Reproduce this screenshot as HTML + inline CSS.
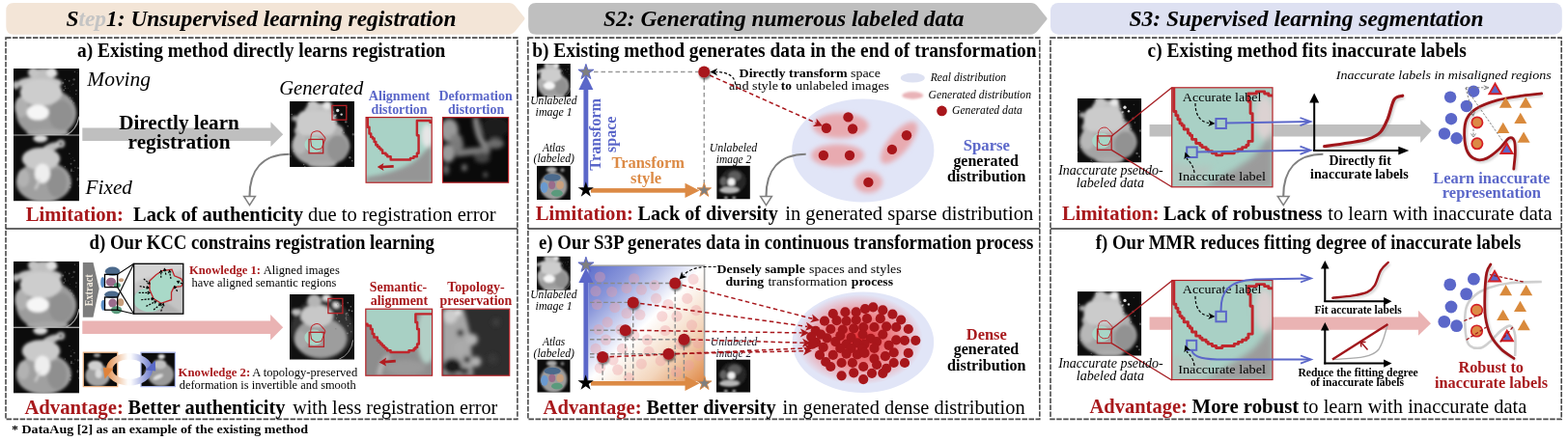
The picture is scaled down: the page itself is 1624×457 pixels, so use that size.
<!DOCTYPE html>
<html><head><meta charset="utf-8"><title>Figure</title>
<style>html,body{margin:0;padding:0;background:#fff;width:1624px;height:457px;overflow:hidden}
svg text{font-family:"Liberation Serif","Times New Roman",serif}</style></head>
<body><svg width="1624" height="457" viewBox="0 0 1624 457" font-family="Liberation Serif, serif">
<defs><filter id="b1" x="-20%" y="-20%" width="140%" height="140%"><feGaussianBlur stdDeviation="2.2"/></filter><filter id="b3" x="-20%" y="-20%" width="140%" height="140%"><feGaussianBlur stdDeviation="4"/></filter><filter id="b2" x="-20%" y="-20%" width="140%" height="140%"><feGaussianBlur stdDeviation="3"/></filter><filter id="b05" x="-20%" y="-20%" width="140%" height="140%"><feGaussianBlur stdDeviation="0.8"/></filter><filter id="sh" x="-50%" y="-50%" width="200%" height="200%"><feGaussianBlur in="SourceAlpha" stdDeviation="1.2"/><feOffset dx="1.2" dy="1.5" result="o"/><feComponentTransfer><feFuncA type="linear" slope="0.55"/></feComponentTransfer><feMerge><feMergeNode/><feMergeNode in="SourceGraphic"/></feMerge></filter><linearGradient id="ringg" gradientUnits="userSpaceOnUse" x1="107" y1="0" x2="161" y2="0"><stop offset="0" stop-color="#e07f34"/><stop offset="0.47" stop-color="#fdfcfb"/><stop offset="0.53" stop-color="#fbfbfe"/><stop offset="1" stop-color="#5566c6"/></linearGradient><filter id="bp" x="-30%" y="-50%" width="160%" height="200%"><feGaussianBlur stdDeviation="2.6"/></filter><linearGradient id="sqg" x1="0" y1="0" x2="1" y2="1"><stop offset="0" stop-color="#5e6fcc"/><stop offset="0.2" stop-color="#8a97da"/><stop offset="0.5" stop-color="#ffffff"/><stop offset="0.75" stop-color="#f3d6bd"/><stop offset="1" stop-color="#e08a48"/></linearGradient><radialGradient id="dg"><stop offset="0" stop-color="#e3262c"/><stop offset="0.6" stop-color="#ee8f95"/><stop offset="1" stop-color="#e1e5f7"/></radialGradient></defs>
<rect width="1624" height="457" fill="#fff"/>
<path d="M14.3,2.9 L527.0,2.9 Q531,2.9 533.48,6.03 L543.07,18.12 Q544,19.3 543.07,20.48 L533.48,32.57 Q531,35.7 527.0,35.7 L14.3,35.7 Q6.3,35.7 6.3,27.700000000000003 L6.3,10.9 Q6.3,2.9 14.3,2.9 Z" fill="#f3e5d7"/>
<path d="M555.2,2.9 L1067.7,2.9 Q1071.7,2.9 1074.22,6.01 L1084.06,18.13 Q1085,19.3 1084.06,20.47 L1074.22,32.59 Q1071.7,35.7 1067.7,35.7 L555.2,35.7 Q547.2,35.7 547.2,27.700000000000003 L547.2,10.9 Q547.2,2.9 555.2,2.9 Z" fill="#bfbfbf"/>
<rect x="1088" y="2.9" width="529.8" height="32.8" rx="8" fill="#dee1f2"/>
<text x="68.4" y="26.8" font-size="24" textLength="404.1" lengthAdjust="spacingAndGlyphs"><tspan font-weight="bold" font-style="italic" fill="#000">S</tspan><tspan font-weight="bold" font-style="italic" fill="#c4c4c4">tep</tspan><tspan font-weight="bold" font-style="italic" fill="#000">1: Unsupervised learning registration</tspan></text>
<text x="625.0" y="26.8" font-size="24" textLength="373.5" lengthAdjust="spacingAndGlyphs"><tspan font-weight="bold" font-style="italic" fill="#000">S2: Generating numerous labeled data</tspan></text>
<text x="1169.5" y="26.8" font-size="24" textLength="367.0" lengthAdjust="spacingAndGlyphs"><tspan font-weight="bold" font-style="italic" fill="#000">S3: Supervised learning segmentation</tspan></text>
<rect x="6.0" y="39.1" width="529.9" height="395.3" fill="none" stroke="#4a4a4a" stroke-width="1.6" stroke-dasharray="5.5 1.5"/>
<line x1="6.0" y1="236.9" x2="535.9" y2="236.9" stroke="#333" stroke-width="1.5"/>
<rect x="546.9" y="39.1" width="529.9" height="395.3" fill="none" stroke="#4a4a4a" stroke-width="1.6" stroke-dasharray="5.5 1.5"/>
<line x1="546.9" y1="236.9" x2="1076.8" y2="236.9" stroke="#333" stroke-width="1.5"/>
<rect x="1088.0" y="39.1" width="529.2" height="395.3" fill="none" stroke="#4a4a4a" stroke-width="1.6" stroke-dasharray="5.5 1.5"/>
<line x1="1088.0" y1="236.9" x2="1617.2" y2="236.9" stroke="#333" stroke-width="1.5"/>
<text x="12.0" y="448.7" font-size="12.5" font-weight="bold" fill="#000" textLength="307.0" lengthAdjust="spacingAndGlyphs">* DataAug [2] as an example of the existing method</text>
<svg x="14.0" y="71.0" width="68.0" height="69.0" viewBox="0 0 100 100" preserveAspectRatio="none" overflow="hidden"><rect width="100" height="100" fill="#0c0c0c"/><circle cx="75.8" cy="47.4" r="1.5" fill="#4a4a4a"/><circle cx="79.1" cy="29.8" r="1.1" fill="#4a4a4a"/><circle cx="90.2" cy="44.4" r="0.7" fill="#4a4a4a"/><circle cx="72.8" cy="46.8" r="1.1" fill="#4a4a4a"/><circle cx="93.3" cy="5.1" r="1.1" fill="#4a4a4a"/><circle cx="92.2" cy="16.4" r="1.7" fill="#4a4a4a"/><circle cx="97.2" cy="6.5" r="0.6" fill="#4a4a4a"/><circle cx="87.2" cy="52.0" r="1.1" fill="#4a4a4a"/><circle cx="78.1" cy="26.1" r="0.6" fill="#4a4a4a"/><circle cx="78.2" cy="26.9" r="1.2" fill="#4a4a4a"/><circle cx="78.5" cy="16.5" r="0.9" fill="#4a4a4a"/><circle cx="84.9" cy="19.5" r="0.6" fill="#4a4a4a"/><circle cx="95.5" cy="32.8" r="1.4" fill="#4a4a4a"/><circle cx="77.2" cy="54.6" r="1.6" fill="#4a4a4a"/><circle cx="75.4" cy="21.6" r="1.5" fill="#4a4a4a"/><circle cx="91.9" cy="51.8" r="1.1" fill="#4a4a4a"/><circle cx="95.2" cy="38.5" r="1.0" fill="#4a4a4a"/><circle cx="88.5" cy="49.1" r="1.6" fill="#4a4a4a"/><circle cx="86.1" cy="34.5" r="0.6" fill="#4a4a4a"/><circle cx="78.8" cy="44.9" r="1.1" fill="#4a4a4a"/><circle cx="76.8" cy="32.4" r="1.4" fill="#4a4a4a"/><circle cx="90.9" cy="23.7" r="1.1" fill="#4a4a4a"/><circle cx="86.2" cy="43.9" r="1.2" fill="#4a4a4a"/><circle cx="83.0" cy="29.5" r="0.6" fill="#4a4a4a"/><circle cx="73.2" cy="40.2" r="1.8" fill="#4a4a4a"/><circle cx="88.6" cy="24.7" r="0.8" fill="#4a4a4a"/><circle cx="86.1" cy="54.1" r="1.5" fill="#4a4a4a"/><circle cx="87.1" cy="48.0" r="0.9" fill="#4a4a4a"/><circle cx="86.4" cy="52.6" r="1.3" fill="#4a4a4a"/><circle cx="84.9" cy="18.5" r="1.3" fill="#4a4a4a"/><g filter="url(#b1)"><ellipse cx="50" cy="67" rx="46" ry="37" fill="#9c9c9c"/><ellipse cx="52" cy="97" rx="32" ry="6" fill="#a6a6a6"/><ellipse cx="72" cy="70" rx="18" ry="22" fill="#909090"/><ellipse cx="12" cy="58" rx="10" ry="16" fill="#b0b0b0"/><ellipse cx="40" cy="22" rx="34" ry="10" fill="#c5c5c5"/><ellipse cx="45" cy="8" rx="22" ry="8" fill="#c0c0c0"/><ellipse cx="42" cy="36" rx="32" ry="20" fill="#cdcdcd"/><ellipse cx="30" cy="6" rx="8" ry="7" fill="#c4c4c4"/><ellipse cx="58" cy="6" rx="8" ry="7" fill="#e2e2e2"/><ellipse cx="4" cy="25" rx="5" ry="6" fill="#b5b5b5"/><ellipse cx="37" cy="66" rx="17" ry="11.5" fill="#f6f6f6"/></g><path d="M100,72 Q96,94 78,101" stroke="#a0a0a0" stroke-width="1.6" fill="none"/></svg>
<svg x="14.0" y="140.0" width="68.0" height="68.4" viewBox="0 0 100 100" preserveAspectRatio="none" overflow="hidden"><rect width="100" height="100" fill="#0c0c0c"/><circle cx="99.0" cy="76.9" r="0.7" fill="#4a4a4a"/><circle cx="79.9" cy="70.1" r="1.5" fill="#4a4a4a"/><circle cx="92.7" cy="38.5" r="1.3" fill="#4a4a4a"/><circle cx="91.3" cy="54.9" r="0.8" fill="#4a4a4a"/><circle cx="87.5" cy="43.6" r="1.5" fill="#4a4a4a"/><circle cx="99.9" cy="77.0" r="1.3" fill="#4a4a4a"/><circle cx="87.8" cy="36.1" r="0.6" fill="#4a4a4a"/><circle cx="78.6" cy="47.9" r="1.0" fill="#4a4a4a"/><circle cx="86.4" cy="73.5" r="1.2" fill="#4a4a4a"/><circle cx="90.3" cy="34.2" r="0.6" fill="#4a4a4a"/><circle cx="85.2" cy="28.2" r="1.2" fill="#4a4a4a"/><circle cx="100.0" cy="60.5" r="0.8" fill="#4a4a4a"/><circle cx="97.7" cy="67.8" r="1.5" fill="#4a4a4a"/><circle cx="97.9" cy="65.8" r="1.5" fill="#4a4a4a"/><circle cx="85.8" cy="78.9" r="1.8" fill="#4a4a4a"/><circle cx="81.5" cy="65.2" r="1.5" fill="#4a4a4a"/><circle cx="88.2" cy="51.8" r="1.2" fill="#4a4a4a"/><circle cx="98.3" cy="50.1" r="1.6" fill="#4a4a4a"/><circle cx="85.8" cy="73.0" r="1.7" fill="#4a4a4a"/><circle cx="88.1" cy="54.1" r="1.7" fill="#4a4a4a"/><circle cx="93.9" cy="49.2" r="0.9" fill="#4a4a4a"/><circle cx="85.1" cy="62.0" r="0.8" fill="#4a4a4a"/><g filter="url(#b1)"><ellipse cx="46" cy="71" rx="42" ry="31" fill="#a0a0a0"/><ellipse cx="66" cy="72" rx="15" ry="22" fill="#8f8f8f"/><ellipse cx="15" cy="65" rx="9" ry="14" fill="#b2b2b2"/><ellipse cx="58" cy="18" rx="16" ry="6" fill="#bdbdbd" transform="rotate(-20 58 18)"/><ellipse cx="42" cy="36" rx="29" ry="17" fill="#cacaca"/><ellipse cx="41" cy="5" rx="11" ry="6" fill="#dadada"/><circle cx="72" cy="13" r="6" fill="#cfcfcf"/><circle cx="72" cy="13" r="2.8" fill="#111"/><ellipse cx="44" cy="58" rx="12" ry="15" fill="#eeeeee"/><path d="M40,66 Q37,76 33,82" stroke="#d5d5d5" stroke-width="3" fill="none"/></g></svg>
<line x1="14" y1="140" x2="82" y2="140" stroke="#d8d8d8" stroke-width="0.8"/>
<text x="90.2" y="88.7" font-size="21" font-style="italic" fill="#000" textLength="65.8" lengthAdjust="spacingAndGlyphs">Moving</text>
<text x="88.6" y="200.7" font-size="21" font-style="italic" fill="#000" textLength="48.4" lengthAdjust="spacingAndGlyphs">Fixed</text>
<path d="M85.3,132.4 L280.4,132.4 L280.4,126.3 L293.2,139.2 L280.4,152 L280.4,145.9 L85.3,145.9 Z" fill="#bfbfbf"/>
<text x="123.2" y="133.6" font-size="20" font-weight="bold" fill="#000" textLength="124.6" lengthAdjust="spacingAndGlyphs">Directly learn</text>
<text x="132.6" y="154.3" font-size="20" font-weight="bold" fill="#000" textLength="106.0" lengthAdjust="spacingAndGlyphs">registration</text>
<text x="289.2" y="97.5" font-size="21" font-style="italic" fill="#000" textLength="87.0" lengthAdjust="spacingAndGlyphs">Generated</text>
<svg x="300.1" y="105.0" width="67.0" height="68.0" viewBox="0 0 100 100" preserveAspectRatio="none" overflow="hidden"><rect width="100" height="100" fill="#0c0c0c"/><circle cx="23.8" cy="54.4" r="1.0" fill="#5a5a5a"/><circle cx="60.4" cy="62.6" r="0.7" fill="#5a5a5a"/><circle cx="1.3" cy="83.7" r="0.9" fill="#5a5a5a"/><circle cx="23.4" cy="99.6" r="1.2" fill="#5a5a5a"/><circle cx="83.6" cy="47.6" r="1.4" fill="#5a5a5a"/><circle cx="15.1" cy="63.5" r="1.6" fill="#5a5a5a"/><circle cx="52.3" cy="74.1" r="1.4" fill="#5a5a5a"/><circle cx="6.4" cy="75.8" r="1.3" fill="#5a5a5a"/><circle cx="30.1" cy="3.1" r="1.6" fill="#5a5a5a"/><circle cx="47.3" cy="71.9" r="1.7" fill="#5a5a5a"/><circle cx="71.4" cy="92.1" r="1.1" fill="#5a5a5a"/><circle cx="80.1" cy="44.5" r="1.7" fill="#5a5a5a"/><circle cx="87.9" cy="9.7" r="0.8" fill="#5a5a5a"/><circle cx="21.7" cy="96.5" r="1.1" fill="#5a5a5a"/><circle cx="62.7" cy="30.1" r="1.2" fill="#5a5a5a"/><circle cx="38.6" cy="35.1" r="1.3" fill="#5a5a5a"/><circle cx="58.4" cy="90.4" r="1.4" fill="#5a5a5a"/><circle cx="92.9" cy="85.6" r="1.8" fill="#5a5a5a"/><circle cx="67.1" cy="16.3" r="1.6" fill="#5a5a5a"/><circle cx="96.5" cy="90.5" r="1.3" fill="#5a5a5a"/><circle cx="71.4" cy="21.1" r="1.6" fill="#5a5a5a"/><circle cx="57.4" cy="28.5" r="0.7" fill="#5a5a5a"/><circle cx="85.4" cy="99.0" r="0.7" fill="#5a5a5a"/><circle cx="80.1" cy="41.0" r="0.8" fill="#5a5a5a"/><circle cx="29.4" cy="76.9" r="1.6" fill="#5a5a5a"/><circle cx="4.4" cy="61.5" r="0.7" fill="#5a5a5a"/><circle cx="71.8" cy="33.1" r="1.7" fill="#5a5a5a"/><circle cx="98.1" cy="50.5" r="1.8" fill="#5a5a5a"/><circle cx="31.0" cy="7.7" r="1.3" fill="#5a5a5a"/><circle cx="3.1" cy="19.7" r="1.1" fill="#5a5a5a"/><circle cx="61.0" cy="15.6" r="0.7" fill="#5a5a5a"/><circle cx="86.8" cy="31.4" r="1.8" fill="#5a5a5a"/><circle cx="89.7" cy="37.8" r="1.2" fill="#5a5a5a"/><circle cx="52.0" cy="64.4" r="1.3" fill="#5a5a5a"/><circle cx="55.9" cy="62.0" r="1.7" fill="#5a5a5a"/><circle cx="50.7" cy="43.1" r="1.5" fill="#5a5a5a"/><circle cx="23.8" cy="30.1" r="1.8" fill="#5a5a5a"/><circle cx="52.1" cy="54.8" r="0.6" fill="#5a5a5a"/><circle cx="41.5" cy="58.0" r="0.6" fill="#5a5a5a"/><circle cx="61.6" cy="63.2" r="0.7" fill="#5a5a5a"/><g filter="url(#b1)"><ellipse cx="48" cy="68" rx="45" ry="31" fill="#a4a4a4"/><ellipse cx="45" cy="45" rx="38" ry="16" fill="#b0b0b0"/><ellipse cx="74" cy="72" rx="16" ry="20" fill="#929292"/><ellipse cx="16" cy="64" rx="11" ry="16" fill="#b8b8b8"/><ellipse cx="45" cy="14" rx="22" ry="11" fill="#c0c0c0"/><rect x="10" y="14" width="62" height="38" rx="16" fill="#cbcbcb"/><ellipse cx="36" cy="6" rx="9" ry="7" fill="#c8c8c8"/><ellipse cx="58" cy="6" rx="7" ry="6" fill="#e8e8e8"/><ellipse cx="50" cy="96" rx="22" ry="5" fill="#acacac"/><ellipse cx="8" cy="26" rx="5" ry="4" fill="#aaa"/></g><circle cx="74" cy="14" r="2.5" fill="#e0e0e0"/><circle cx="80" cy="20" r="1.8" fill="#d0d0d0"/><circle cx="70" cy="22" r="1.5" fill="#bbb"/><ellipse cx="37.5" cy="66" rx="14.5" ry="12" fill="#a9dccb" opacity="0.9" filter="url(#b05)"/><path d="M32.5,55 C33,50 35,47 37.5,46.5 C40,45 44,45 46,46 C49,48 51,51 52.6,52.7 C55,55 56,58 53.8,60 C52,64 51,68 49,71.6 C46,73 42,73.5 39.6,72.8 C37,71 34.5,70 33.6,68 C32.5,63 32,58 32.5,55 Z" fill="none" stroke="#c0262c" stroke-width="1.5"/></svg>
<rect x="344" y="109.4" width="14.8" height="14.8" fill="none" stroke="#b52025" stroke-width="1.3"/>
<rect x="320" y="144.4" width="14.7" height="14.4" fill="none" stroke="#b52025" stroke-width="1.3"/>
<text x="381.8" y="104.2" font-size="14.5" font-weight="bold" fill="#5b67c9" textLength="63.4" lengthAdjust="spacingAndGlyphs">Alignment</text>
<text x="384.4" y="117.5" font-size="14.5" font-weight="bold" fill="#5b67c9" textLength="58.2" lengthAdjust="spacingAndGlyphs">distortion</text>
<text x="454.4" y="104.2" font-size="14.5" font-weight="bold" fill="#5b67c9" textLength="76.4" lengthAdjust="spacingAndGlyphs">Deformation</text>
<text x="464.0" y="117.5" font-size="14.5" font-weight="bold" fill="#5b67c9" textLength="58.2" lengthAdjust="spacingAndGlyphs">distortion</text>
<svg x="379.1" y="121.6" width="68.1" height="67.6" viewBox="0 0 100 100" preserveAspectRatio="none" overflow="hidden"><rect width="100" height="100" fill="#a9d2c6"/><g filter="url(#b2)"><path d="M0,92 Q40,86 70,70 Q90,55 100,38 L100,100 L0,100 Z" fill="#959595"/><ellipse cx="93" cy="28" rx="9" ry="18" fill="#e6e6e6"/></g><path d="M0.0,0.0 L2.5,0.0 L2.5,2.5 L2.5,5.0 L2.5,7.5 L2.5,10.0 L2.5,12.5 L2.5,15.0 L5.0,15.0 L5.0,17.5 L5.0,20.0 L5.0,22.5 L5.0,25.0 L7.5,25.0 L7.5,27.5 L7.5,30.0 L10.0,30.0 L10.0,32.5 L12.5,32.5 L12.5,35.0 L12.5,37.5 L15.0,37.5 L15.0,40.0 L15.0,42.5 L17.5,42.5 L17.5,45.0 L20.0,45.0 L20.0,47.5 L22.5,47.5 L22.5,50.0 L25.0,50.0 L25.0,52.5 L25.0,55.0 L27.5,55.0 L30.0,55.0 L30.0,57.5 L32.5,57.5 L32.5,60.0 L35.0,60.0 L37.5,60.0 L37.5,62.5 L37.5,65.0 L40.0,65.0 L42.5,65.0 L45.0,65.0 L47.5,65.0 L50.0,65.0 L52.5,65.0 L55.0,65.0 L57.5,65.0 L60.0,65.0 L62.5,65.0 L65.0,65.0 L67.5,65.0 L67.5,62.5 L70.0,62.5 L72.5,62.5 L72.5,60.0 L75.0,60.0 L77.5,60.0 L77.5,57.5 L77.5,55.0 L80.0,55.0 L80.0,52.5 L80.0,50.0 L80.0,47.5 L80.0,45.0 L80.0,42.5 L80.0,40.0 L80.0,37.5 L80.0,35.0 L80.0,32.5 L80.0,30.0 L80.0,27.5 L77.5,27.5 L77.5,25.0 L77.5,22.5 L77.5,20.0 L77.5,17.5 L77.5,15.0 L77.5,12.5 L77.5,10.0 L77.5,7.5 L77.5,5.0 L80.0,5.0 L82.5,5.0 L85.0,5.0 L87.5,5.0 L90.0,5.0 L92.5,5.0 L95.0,5.0 L97.5,5.0 L97.5,7.5 L100.0,7.5" fill="none" stroke="#c0262c" stroke-width="3.6" stroke-linejoin="round"/><line x1="42" y1="75" x2="23" y2="76" stroke="#b01c20" stroke-width="4"/><path d="M17,76 L27,70 L25,76 L27,82 Z" fill="#b01c20"/></svg>
<rect x="379.1" y="121.6" width="68.1" height="67.6" fill="none" stroke="#b52025" stroke-width="1.2"/>
<svg x="458.5" y="121.6" width="68.1" height="67.6" viewBox="0 0 100 100" preserveAspectRatio="none" overflow="hidden"><rect width="100" height="100" fill="#0a0a0a"/><g filter="url(#b2)"><ellipse cx="80" cy="15" rx="22" ry="16" fill="#1e1e1e"/><ellipse cx="10" cy="20" rx="14" ry="18" fill="#9a9a9a"/><ellipse cx="8" cy="55" rx="11" ry="14" fill="#9a9a9a"/><ellipse cx="20" cy="35" rx="10" ry="10" fill="#808080"/><ellipse cx="22" cy="42" rx="10" ry="8" fill="#7a7a7a"/><ellipse cx="5" cy="80" rx="5" ry="8" fill="#666"/><path d="M50,0 Q52,30 66,46" stroke="#8a8a8a" stroke-width="9" fill="none"/><path d="M20,55 Q45,52 72,50" stroke="#7a7a7a" stroke-width="11" fill="none"/><ellipse cx="80" cy="40" rx="13" ry="8" fill="#6c6c6c"/><ellipse cx="60" cy="62" rx="12" ry="8" fill="#444"/><ellipse cx="33" cy="77" rx="4" ry="5" fill="#777"/><ellipse cx="65" cy="88" rx="3" ry="4" fill="#777"/></g></svg>
<rect x="458.5" y="121.6" width="68.1" height="67.6" fill="none" stroke="#b52025" stroke-width="1.2"/>
<path d="M299.7,159.7 C272.0,160 258.5,176 258.5,203.5" fill="none" stroke="#808080" stroke-width="2.1"/>
<path d="M252.6,203.5 L264.4,203.5 L258.5,212.6 Z" fill="#fff" stroke="#808080" stroke-width="1.5" stroke-linejoin="miter"/>
<text x="26.8" y="228.5" font-size="21" font-weight="bold" fill="#a8191c" textLength="101.2" lengthAdjust="spacingAndGlyphs">Limitation:</text>
<text x="138.0" y="228.5" font-size="21" font-weight="bold" fill="#000" textLength="176.0" lengthAdjust="spacingAndGlyphs">Lack of authenticity</text>
<text x="319.0" y="228.5" font-size="21" fill="#000" textLength="194.6" lengthAdjust="spacingAndGlyphs">due to registration error</text>
<text x="80.0" y="59.2" font-size="20.5" font-weight="bold" fill="#000" textLength="381.4" lengthAdjust="spacingAndGlyphs">a) Existing method directly learns registration</text>
<text x="92.6" y="257.7" font-size="20.5" font-weight="bold" fill="#000" textLength="357.2" lengthAdjust="spacingAndGlyphs">d) Our KCC constrains registration learning</text>
<svg x="14.0" y="270.7" width="68.0" height="68.5" viewBox="0 0 100 100" preserveAspectRatio="none" overflow="hidden"><rect width="100" height="100" fill="#0c0c0c"/><circle cx="75.8" cy="47.4" r="1.5" fill="#4a4a4a"/><circle cx="79.1" cy="29.8" r="1.1" fill="#4a4a4a"/><circle cx="90.2" cy="44.4" r="0.7" fill="#4a4a4a"/><circle cx="72.8" cy="46.8" r="1.1" fill="#4a4a4a"/><circle cx="93.3" cy="5.1" r="1.1" fill="#4a4a4a"/><circle cx="92.2" cy="16.4" r="1.7" fill="#4a4a4a"/><circle cx="97.2" cy="6.5" r="0.6" fill="#4a4a4a"/><circle cx="87.2" cy="52.0" r="1.1" fill="#4a4a4a"/><circle cx="78.1" cy="26.1" r="0.6" fill="#4a4a4a"/><circle cx="78.2" cy="26.9" r="1.2" fill="#4a4a4a"/><circle cx="78.5" cy="16.5" r="0.9" fill="#4a4a4a"/><circle cx="84.9" cy="19.5" r="0.6" fill="#4a4a4a"/><circle cx="95.5" cy="32.8" r="1.4" fill="#4a4a4a"/><circle cx="77.2" cy="54.6" r="1.6" fill="#4a4a4a"/><circle cx="75.4" cy="21.6" r="1.5" fill="#4a4a4a"/><circle cx="91.9" cy="51.8" r="1.1" fill="#4a4a4a"/><circle cx="95.2" cy="38.5" r="1.0" fill="#4a4a4a"/><circle cx="88.5" cy="49.1" r="1.6" fill="#4a4a4a"/><circle cx="86.1" cy="34.5" r="0.6" fill="#4a4a4a"/><circle cx="78.8" cy="44.9" r="1.1" fill="#4a4a4a"/><circle cx="76.8" cy="32.4" r="1.4" fill="#4a4a4a"/><circle cx="90.9" cy="23.7" r="1.1" fill="#4a4a4a"/><circle cx="86.2" cy="43.9" r="1.2" fill="#4a4a4a"/><circle cx="83.0" cy="29.5" r="0.6" fill="#4a4a4a"/><circle cx="73.2" cy="40.2" r="1.8" fill="#4a4a4a"/><circle cx="88.6" cy="24.7" r="0.8" fill="#4a4a4a"/><circle cx="86.1" cy="54.1" r="1.5" fill="#4a4a4a"/><circle cx="87.1" cy="48.0" r="0.9" fill="#4a4a4a"/><circle cx="86.4" cy="52.6" r="1.3" fill="#4a4a4a"/><circle cx="84.9" cy="18.5" r="1.3" fill="#4a4a4a"/><g filter="url(#b1)"><ellipse cx="50" cy="67" rx="46" ry="37" fill="#9c9c9c"/><ellipse cx="52" cy="97" rx="32" ry="6" fill="#a6a6a6"/><ellipse cx="72" cy="70" rx="18" ry="22" fill="#909090"/><ellipse cx="12" cy="58" rx="10" ry="16" fill="#b0b0b0"/><ellipse cx="40" cy="22" rx="34" ry="10" fill="#c5c5c5"/><ellipse cx="45" cy="8" rx="22" ry="8" fill="#c0c0c0"/><ellipse cx="42" cy="36" rx="32" ry="20" fill="#cdcdcd"/><ellipse cx="30" cy="6" rx="8" ry="7" fill="#c4c4c4"/><ellipse cx="58" cy="6" rx="8" ry="7" fill="#e2e2e2"/><ellipse cx="4" cy="25" rx="5" ry="6" fill="#b5b5b5"/><ellipse cx="37" cy="66" rx="17" ry="11.5" fill="#f6f6f6"/></g><path d="M100,72 Q96,94 78,101" stroke="#a0a0a0" stroke-width="1.6" fill="none"/></svg>
<svg x="14.0" y="339.2" width="68.0" height="68.4" viewBox="0 0 100 100" preserveAspectRatio="none" overflow="hidden"><rect width="100" height="100" fill="#0c0c0c"/><circle cx="99.0" cy="76.9" r="0.7" fill="#4a4a4a"/><circle cx="79.9" cy="70.1" r="1.5" fill="#4a4a4a"/><circle cx="92.7" cy="38.5" r="1.3" fill="#4a4a4a"/><circle cx="91.3" cy="54.9" r="0.8" fill="#4a4a4a"/><circle cx="87.5" cy="43.6" r="1.5" fill="#4a4a4a"/><circle cx="99.9" cy="77.0" r="1.3" fill="#4a4a4a"/><circle cx="87.8" cy="36.1" r="0.6" fill="#4a4a4a"/><circle cx="78.6" cy="47.9" r="1.0" fill="#4a4a4a"/><circle cx="86.4" cy="73.5" r="1.2" fill="#4a4a4a"/><circle cx="90.3" cy="34.2" r="0.6" fill="#4a4a4a"/><circle cx="85.2" cy="28.2" r="1.2" fill="#4a4a4a"/><circle cx="100.0" cy="60.5" r="0.8" fill="#4a4a4a"/><circle cx="97.7" cy="67.8" r="1.5" fill="#4a4a4a"/><circle cx="97.9" cy="65.8" r="1.5" fill="#4a4a4a"/><circle cx="85.8" cy="78.9" r="1.8" fill="#4a4a4a"/><circle cx="81.5" cy="65.2" r="1.5" fill="#4a4a4a"/><circle cx="88.2" cy="51.8" r="1.2" fill="#4a4a4a"/><circle cx="98.3" cy="50.1" r="1.6" fill="#4a4a4a"/><circle cx="85.8" cy="73.0" r="1.7" fill="#4a4a4a"/><circle cx="88.1" cy="54.1" r="1.7" fill="#4a4a4a"/><circle cx="93.9" cy="49.2" r="0.9" fill="#4a4a4a"/><circle cx="85.1" cy="62.0" r="0.8" fill="#4a4a4a"/><g filter="url(#b1)"><ellipse cx="46" cy="71" rx="42" ry="31" fill="#a0a0a0"/><ellipse cx="66" cy="72" rx="15" ry="22" fill="#8f8f8f"/><ellipse cx="15" cy="65" rx="9" ry="14" fill="#b2b2b2"/><ellipse cx="58" cy="18" rx="16" ry="6" fill="#bdbdbd" transform="rotate(-20 58 18)"/><ellipse cx="42" cy="36" rx="29" ry="17" fill="#cacaca"/><ellipse cx="41" cy="5" rx="11" ry="6" fill="#dadada"/><circle cx="72" cy="13" r="6" fill="#cfcfcf"/><circle cx="72" cy="13" r="2.8" fill="#111"/><ellipse cx="44" cy="58" rx="12" ry="15" fill="#eeeeee"/><path d="M40,66 Q37,76 33,82" stroke="#d5d5d5" stroke-width="3" fill="none"/></g></svg>
<line x1="14" y1="339.2" x2="82" y2="339.2" stroke="#d8d8d8" stroke-width="0.8"/>
<path d="M85.8,272.1 L96.5,272.1 L102.7,298.9 L96.5,328.8 L85.8,328.8 Z" fill="#7d7d7d"/>
<text transform="translate(96.0,317.3) rotate(-90)" font-size="12" font-weight="bold" fill="#f3ece0" textLength="32.9" lengthAdjust="spacingAndGlyphs">Extract</text>
<g><ellipse cx="116.5" cy="281.2" rx="7.7" ry="4.6" fill="#4c6a8c"/><ellipse cx="106.3" cy="292.5" rx="2.1" ry="5.5" fill="#5b8fc8"/><ellipse cx="115" cy="292.3" rx="5.2" ry="4.6" fill="#9a6c8c"/><ellipse cx="121.4" cy="295.6" rx="3.6" ry="2.6" fill="#5a9a7c"/><ellipse cx="125.6" cy="290.3" rx="2.6" ry="2" fill="#c9a07e"/><ellipse cx="115.9" cy="305.3" rx="7.7" ry="3.7" fill="#4c6a8c"/><ellipse cx="106.9" cy="316.2" rx="2.3" ry="5.5" fill="#5b8fc8"/><ellipse cx="116.7" cy="314" rx="4.3" ry="4.6" fill="#9a6c8c"/><ellipse cx="125" cy="313.3" rx="3.3" ry="4" fill="#c9a07e"/><ellipse cx="120.6" cy="321.2" rx="5.6" ry="4" fill="#5a9a7c"/></g>
<rect x="108.5" y="284.4" width="13.2" height="13.2" fill="none" stroke="#000" stroke-width="1.3"/>
<rect x="108.5" y="308.0" width="13.2" height="13.2" fill="none" stroke="#000" stroke-width="1.3"/>
<line x1="121.7" y1="284.4" x2="138.6" y2="273.3" stroke="#000" stroke-width="1.1"/>
<line x1="121.7" y1="297.6" x2="138.6" y2="325.2" stroke="#000" stroke-width="1.1"/>
<line x1="121.7" y1="308.0" x2="138.6" y2="273.3" stroke="#000" stroke-width="1.1"/>
<line x1="121.7" y1="321.2" x2="138.6" y2="325.2" stroke="#000" stroke-width="1.1"/>
<svg x="138.6" y="273.3" width="51.2" height="51.9" viewBox="0 0 100 100" preserveAspectRatio="none" overflow="hidden"><rect width="100" height="100" fill="#c4c4c4"/><g filter="url(#b2)"><path d="M0,40 Q30,20 60,30 L100,10 L100,0 L0,0 Z" fill="#d4d4d4"/><path d="M0,60 Q20,45 40,60 L100,100 L0,100 Z" fill="#b0b0b0"/></g><ellipse cx="32" cy="72" rx="32" ry="24" fill="#a9d9c8"/><path d="M32,34 L45,22 L57,14 L77,11.5 L82,24 L96,30 L100,38 L96,45 L81,47 L76,57 L76,72 L55,79 L40,70 L32,52 Z" fill="#a9d9c8" stroke="#c0262c" stroke-width="2.6"/><line x1="20" y1="30" x2="32" y2="40" stroke="#000" stroke-width="2.4" stroke-dasharray="4 2.5"/><path d="M27.1,39.2 L32,40 L30.4,35.3" fill="none" stroke="#000" stroke-width="2.2"/><line x1="12" y1="45" x2="30" y2="48" stroke="#000" stroke-width="2.4" stroke-dasharray="4 2.5"/><path d="M25.4,49.8 L30,48 L26.2,44.8" fill="none" stroke="#000" stroke-width="2.2"/><line x1="10" y1="58" x2="32" y2="58" stroke="#000" stroke-width="2.4" stroke-dasharray="4 2.5"/><path d="M27.7,60.6 L32,58 L27.7,55.4" fill="none" stroke="#000" stroke-width="2.2"/><line x1="15" y1="72" x2="40" y2="70" stroke="#000" stroke-width="2.4" stroke-dasharray="4 2.5"/><path d="M35.9,72.9 L40,70 L35.5,67.8" fill="none" stroke="#000" stroke-width="2.2"/><line x1="25" y1="85" x2="45" y2="75" stroke="#000" stroke-width="2.4" stroke-dasharray="4 2.5"/><path d="M42.3,79.2 L45,75 L40.0,74.6" fill="none" stroke="#000" stroke-width="2.2"/><line x1="40" y1="92" x2="55" y2="80" stroke="#000" stroke-width="2.4" stroke-dasharray="4 2.5"/><path d="M53.3,84.7 L55,80 L50.0,80.7" fill="none" stroke="#000" stroke-width="2.2"/><line x1="55" y1="95" x2="60" y2="80" stroke="#000" stroke-width="2.4" stroke-dasharray="4 2.5"/><path d="M61.1,84.9 L60,80 L56.2,83.2" fill="none" stroke="#000" stroke-width="2.2"/><line x1="65" y1="22" x2="62" y2="10" stroke="#000" stroke-width="2.4" stroke-dasharray="4 2.5"/><path d="M65.5,13.5 L62,10 L60.5,14.8" fill="none" stroke="#000" stroke-width="2.2"/><line x1="55" y1="28" x2="55" y2="14" stroke="#000" stroke-width="2.4" stroke-dasharray="4 2.5"/><path d="M57.6,18.3 L55,14 L52.4,18.3" fill="none" stroke="#000" stroke-width="2.2"/><line x1="75" y1="30" x2="72" y2="14" stroke="#000" stroke-width="2.4" stroke-dasharray="4 2.5"/><path d="M75.3,17.7 L72,14 L70.3,18.7" fill="none" stroke="#000" stroke-width="2.2"/><line x1="88" y1="55" x2="82" y2="45" stroke="#000" stroke-width="2.4" stroke-dasharray="4 2.5"/><path d="M86.4,47.3 L82,45 L82.0,50.0" fill="none" stroke="#000" stroke-width="2.2"/><line x1="98" y1="40" x2="88" y2="35" stroke="#000" stroke-width="2.4" stroke-dasharray="4 2.5"/><path d="M93.0,34.6 L88,35 L90.7,39.2" fill="none" stroke="#000" stroke-width="2.2"/></svg>
<rect x="138.6" y="273.3" width="51.2" height="51.9" fill="none" stroke="#000" stroke-width="1.3"/>
<text x="196.0" y="283.7" font-size="13.5" font-weight="bold" fill="#a8191c" textLength="74.0" lengthAdjust="spacingAndGlyphs">Knowledge 1:</text>
<text x="272.8" y="283.7" font-size="13.5" fill="#000" textLength="79.0" lengthAdjust="spacingAndGlyphs">Aligned images</text>
<text x="198.6" y="297.3" font-size="13.5" fill="#000" textLength="149.8" lengthAdjust="spacingAndGlyphs">have aligned semantic regions</text>
<path d="M85.3,332.6 L280.1,332.6 L280.1,326.1 L293.2,339.3 L280.1,352.4 L280.1,345.9 L85.3,345.9 Z" fill="#eab3b3"/>
<svg x="300.0" y="305.0" width="67.0" height="67.7" viewBox="0 0 100 100" preserveAspectRatio="none" overflow="hidden"><rect width="100" height="100" fill="#101010"/><g filter="url(#b1)"><circle cx="50" cy="54" r="48" fill="#333"/><ellipse cx="48" cy="67" rx="40" ry="30" fill="#9d9d9d"/><ellipse cx="42" cy="33" rx="25" ry="17" fill="#c8c8c8"/><ellipse cx="38" cy="10" rx="11" ry="10" fill="#b5b5b5"/><ellipse cx="57" cy="5" rx="7" ry="5" fill="#dddddd"/><ellipse cx="10" cy="27" rx="7" ry="5" fill="#c0c0c0"/><ellipse cx="72" cy="16" rx="5" ry="5" fill="#e0e0e0"/><ellipse cx="18" cy="70" rx="10" ry="14" fill="#a8a8a8"/></g><circle cx="79.7" cy="17.5" r="1.1" fill="#777"/><circle cx="72.2" cy="36.8" r="0.9" fill="#777"/><circle cx="71.7" cy="35.4" r="0.6" fill="#777"/><circle cx="83.0" cy="13.5" r="0.7" fill="#777"/><circle cx="82.7" cy="51.3" r="0.7" fill="#777"/><circle cx="76.7" cy="41.4" r="1.4" fill="#777"/><circle cx="87.3" cy="29.8" r="1.4" fill="#777"/><circle cx="71.4" cy="52.9" r="0.8" fill="#777"/><circle cx="74.3" cy="15.9" r="0.8" fill="#777"/><circle cx="94.5" cy="19.0" r="1.1" fill="#777"/><circle cx="89.2" cy="28.6" r="1.0" fill="#777"/><circle cx="71.9" cy="13.0" r="0.8" fill="#777"/><circle cx="90.4" cy="31.4" r="0.9" fill="#777"/><circle cx="87.6" cy="32.7" r="0.8" fill="#777"/><circle cx="93.8" cy="44.9" r="0.8" fill="#777"/><circle cx="87.2" cy="36.3" r="1.3" fill="#777"/><circle cx="91.9" cy="24.4" r="1.4" fill="#777"/><circle cx="73.5" cy="30.9" r="1.2" fill="#777"/><circle cx="74.6" cy="34.4" r="0.6" fill="#777"/><circle cx="90.0" cy="48.2" r="1.1" fill="#777"/><circle cx="96.3" cy="25.7" r="1.2" fill="#777"/><circle cx="87.8" cy="39.0" r="1.0" fill="#777"/><circle cx="95.2" cy="57.2" r="1.0" fill="#777"/><circle cx="89.9" cy="13.0" r="1.2" fill="#777"/><circle cx="89.4" cy="59.7" r="1.3" fill="#777"/><path d="M98,70 Q95,92 75,100" stroke="#a0a0a0" stroke-width="1.4" fill="none"/><ellipse cx="37.5" cy="66" rx="14.5" ry="12" fill="#a9dccb" opacity="0.9" filter="url(#b05)"/><path d="M32.5,55 C33,50 35,47 37.5,46.5 C40,45 44,45 46,46 C49,48 51,51 52.6,52.7 C55,55 56,58 53.8,60 C52,64 51,68 49,71.6 C46,73 42,73.5 39.6,72.8 C37,71 34.5,70 33.6,68 C32.5,63 32,58 32.5,55 Z" fill="none" stroke="#c0262c" stroke-width="1.5"/></svg>
<rect x="339.9" y="309.4" width="15.0" height="15.2" fill="none" stroke="#b52025" stroke-width="1.3"/>
<rect x="320.2" y="344.3" width="15.2" height="15.0" fill="none" stroke="#b52025" stroke-width="1.3"/>
<text x="382.8" y="302.3" font-size="15" font-weight="bold" fill="#a8191c" textLength="59.4" lengthAdjust="spacingAndGlyphs">Semantic-</text>
<text x="383.8" y="315.5" font-size="15" font-weight="bold" fill="#a8191c" textLength="59.4" lengthAdjust="spacingAndGlyphs">alignment</text>
<text x="463.2" y="302.3" font-size="15" font-weight="bold" fill="#a8191c" textLength="59.4" lengthAdjust="spacingAndGlyphs">Topology-</text>
<text x="455.6" y="315.5" font-size="15" font-weight="bold" fill="#a8191c" textLength="74.6" lengthAdjust="spacingAndGlyphs">preservation</text>
<svg x="378.8" y="320.2" width="68.8" height="69.0" viewBox="0 0 100 100" preserveAspectRatio="none" overflow="hidden"><rect width="100" height="100" fill="#8d8d8d"/><g filter="url(#b2)"><ellipse cx="92" cy="40" rx="15" ry="42" fill="#b2cfc6"/><path d="M20,100 Q22,80 35,70" stroke="#c8c8c8" stroke-width="5" fill="none"/><ellipse cx="60" cy="88" rx="30" ry="12" fill="#9a9a9a"/></g><path d="M0,0 L0,22 L0,22 L7,26 L13,40 L22.5,52 L31.6,61 L43,66 L62,65 L73.5,61 L79,50 L79,31 L76,19 L76,7.5 L90,6.3 L100,8.5 L100,0 Z" fill="#a8d0c4"/><path d="M0.0,22.5 L2.5,22.5 L2.5,25.0 L5.0,25.0 L7.5,25.0 L7.5,27.5 L7.5,30.0 L10.0,30.0 L10.0,32.5 L10.0,35.0 L10.0,37.5 L12.5,37.5 L12.5,40.0 L12.5,42.5 L15.0,42.5 L17.5,42.5 L17.5,45.0 L17.5,47.5 L20.0,47.5 L20.0,50.0 L22.5,50.0 L22.5,52.5 L25.0,52.5 L25.0,55.0 L27.5,55.0 L27.5,57.5 L30.0,57.5 L30.0,60.0 L32.5,60.0 L32.5,62.5 L35.0,62.5 L37.5,62.5 L37.5,65.0 L40.0,65.0 L42.5,65.0 L45.0,65.0 L47.5,65.0 L50.0,65.0 L52.5,65.0 L55.0,65.0 L57.5,65.0 L60.0,65.0 L62.5,65.0 L65.0,65.0 L65.0,62.5 L67.5,62.5 L70.0,62.5 L72.5,62.5 L72.5,60.0 L75.0,60.0 L75.0,57.5 L77.5,57.5 L77.5,55.0 L77.5,52.5 L80.0,52.5 L80.0,50.0 L80.0,47.5 L80.0,45.0 L80.0,42.5 L80.0,40.0 L80.0,37.5 L80.0,35.0 L80.0,32.5 L80.0,30.0 L77.5,30.0 L77.5,27.5 L77.5,25.0 L77.5,22.5 L77.5,20.0 L75.0,20.0 L75.0,17.5 L75.0,15.0 L75.0,12.5 L75.0,10.0 L75.0,7.5 L77.5,7.5 L80.0,7.5 L82.5,7.5 L85.0,7.5 L87.5,7.5 L90.0,7.5 L92.5,7.5 L95.0,7.5 L97.5,7.5 L100.0,7.5" fill="none" stroke="#c0262c" stroke-width="3.6" stroke-linejoin="round"/><line x1="45" y1="78" x2="28" y2="79.5" stroke="#b01c20" stroke-width="4"/><path d="M20,80 L31,73 L29,80 L31,86 Z" fill="#b01c20"/></svg>
<rect x="378.8" y="320.2" width="68.8" height="69.0" fill="none" stroke="#b52025" stroke-width="1.2"/>
<svg x="458.0" y="320.2" width="69.7" height="69.0" viewBox="0 0 100 100" preserveAspectRatio="none" overflow="hidden"><rect width="100" height="100" fill="#2e2e2e"/><g filter="url(#b2)"><path d="M0,0 L32,0 Q38,20 42,40 Q44,70 46,100 L0,100 Z" fill="#a6a6a6"/><ellipse cx="12" cy="10" rx="11" ry="12" fill="#cdcdcd"/><ellipse cx="24" cy="4" rx="4" ry="5" fill="#eeeeee"/><circle cx="44" cy="46" r="9" fill="#b4b4b4"/><circle cx="50" cy="79" r="8" fill="#b0b0b0"/><circle cx="27" cy="59" r="10" fill="#ababab"/><ellipse cx="15" cy="86" rx="14" ry="12" fill="#1e1e1e"/><circle cx="37" cy="76" r="5" fill="#2a2a2a"/><circle cx="27" cy="36" r="5" fill="#333"/><ellipse cx="33" cy="93" rx="8" ry="5" fill="#222"/><circle cx="80" cy="20" r="6" fill="#3c3c3c"/><circle cx="75" cy="75" r="8" fill="#393939"/></g></svg>
<rect x="458.0" y="320.2" width="69.7" height="69.0" fill="none" stroke="#b52025" stroke-width="1.2"/>
<svg x="86.3" y="365.2" width="35.4" height="35.4" viewBox="0 0 100 100" preserveAspectRatio="none" overflow="hidden"><rect width="100" height="100" fill="#0c0c0c"/><g filter="url(#b2)"><ellipse cx="42" cy="68" rx="36" ry="32" fill="#a2a2a2"/><ellipse cx="35" cy="38" rx="22" ry="14" fill="#d0d0d0"/><ellipse cx="45" cy="62" rx="10" ry="13" fill="#dcdcdc"/><ellipse cx="40" cy="8" rx="10" ry="6" fill="#999"/></g></svg>
<rect x="86.3" y="365.2" width="35.4" height="35.4" fill="none" stroke="#e8b080" stroke-width="1.2"/>
<svg x="146.0" y="365.2" width="35.4" height="35.4" viewBox="0 0 100 100" preserveAspectRatio="none" overflow="hidden"><rect width="100" height="100" fill="#0c0c0c"/><g filter="url(#b2)"><ellipse cx="58" cy="65" rx="38" ry="34" fill="#9a9a9a"/><ellipse cx="55" cy="35" rx="20" ry="14" fill="#c0c0c0"/><ellipse cx="60" cy="12" rx="10" ry="7" fill="#dddddd"/><ellipse cx="50" cy="72" rx="16" ry="6" fill="#e0e0e0" transform="rotate(-25 50 72)"/><ellipse cx="20" cy="60" rx="10" ry="10" fill="#888"/></g></svg>
<rect x="146.0" y="365.2" width="35.4" height="35.4" fill="none" stroke="#a8b4e8" stroke-width="1.2"/>
<ellipse cx="134" cy="382.7" rx="20.8" ry="13.4" fill="none" stroke="url(#ringg)" stroke-width="6.6"/>
<path d="M106.8,381 L117.5,381.8 L108.5,392.8 Z" fill="#e0833a"/>
<path d="M161.2,384.5 L150.6,383.6 L160.8,373.5 Z" fill="#5868c6"/>
<text x="184.6" y="389.6" font-size="13.5" font-weight="bold" fill="#a8191c" textLength="74.6" lengthAdjust="spacingAndGlyphs">Knowledge 2:</text>
<text x="261.2" y="389.6" font-size="13.5" fill="#000" textLength="109.0" lengthAdjust="spacingAndGlyphs">A topology-preserved</text>
<text x="185.8" y="403.4" font-size="13.5" fill="#000" textLength="182.8" lengthAdjust="spacingAndGlyphs">deformation is invertible and smooth</text>
<text x="25.4" y="428.7" font-size="21" font-weight="bold" fill="#a8191c" textLength="102.4" lengthAdjust="spacingAndGlyphs">Advantage:</text>
<text x="132.6" y="428.7" font-size="21" font-weight="bold" fill="#000" textLength="162.8" lengthAdjust="spacingAndGlyphs">Better authenticity</text>
<text x="303.2" y="428.7" font-size="21" fill="#000" textLength="212.0" lengthAdjust="spacingAndGlyphs">with less registration error</text>
<text x="551.2" y="58.8" font-size="20.5" font-weight="bold" fill="#000" textLength="522.4" lengthAdjust="spacingAndGlyphs">b) Existing method generates data in the end of transformation</text>
<svg x="555.9" y="65.9" width="35.0" height="34.6" viewBox="0 0 100 100" preserveAspectRatio="none" overflow="hidden"><rect width="100" height="100" fill="#0c0c0c"/><circle cx="75.8" cy="47.4" r="1.5" fill="#4a4a4a"/><circle cx="79.1" cy="29.8" r="1.1" fill="#4a4a4a"/><circle cx="90.2" cy="44.4" r="0.7" fill="#4a4a4a"/><circle cx="72.8" cy="46.8" r="1.1" fill="#4a4a4a"/><circle cx="93.3" cy="5.1" r="1.1" fill="#4a4a4a"/><circle cx="92.2" cy="16.4" r="1.7" fill="#4a4a4a"/><circle cx="97.2" cy="6.5" r="0.6" fill="#4a4a4a"/><circle cx="87.2" cy="52.0" r="1.1" fill="#4a4a4a"/><circle cx="78.1" cy="26.1" r="0.6" fill="#4a4a4a"/><circle cx="78.2" cy="26.9" r="1.2" fill="#4a4a4a"/><circle cx="78.5" cy="16.5" r="0.9" fill="#4a4a4a"/><circle cx="84.9" cy="19.5" r="0.6" fill="#4a4a4a"/><circle cx="95.5" cy="32.8" r="1.4" fill="#4a4a4a"/><circle cx="77.2" cy="54.6" r="1.6" fill="#4a4a4a"/><circle cx="75.4" cy="21.6" r="1.5" fill="#4a4a4a"/><circle cx="91.9" cy="51.8" r="1.1" fill="#4a4a4a"/><circle cx="95.2" cy="38.5" r="1.0" fill="#4a4a4a"/><circle cx="88.5" cy="49.1" r="1.6" fill="#4a4a4a"/><circle cx="86.1" cy="34.5" r="0.6" fill="#4a4a4a"/><circle cx="78.8" cy="44.9" r="1.1" fill="#4a4a4a"/><circle cx="76.8" cy="32.4" r="1.4" fill="#4a4a4a"/><circle cx="90.9" cy="23.7" r="1.1" fill="#4a4a4a"/><circle cx="86.2" cy="43.9" r="1.2" fill="#4a4a4a"/><circle cx="83.0" cy="29.5" r="0.6" fill="#4a4a4a"/><circle cx="73.2" cy="40.2" r="1.8" fill="#4a4a4a"/><circle cx="88.6" cy="24.7" r="0.8" fill="#4a4a4a"/><circle cx="86.1" cy="54.1" r="1.5" fill="#4a4a4a"/><circle cx="87.1" cy="48.0" r="0.9" fill="#4a4a4a"/><circle cx="86.4" cy="52.6" r="1.3" fill="#4a4a4a"/><circle cx="84.9" cy="18.5" r="1.3" fill="#4a4a4a"/><g filter="url(#b2)"><ellipse cx="50" cy="67" rx="46" ry="37" fill="#9c9c9c"/><ellipse cx="52" cy="97" rx="32" ry="6" fill="#a6a6a6"/><ellipse cx="72" cy="70" rx="18" ry="22" fill="#909090"/><ellipse cx="12" cy="58" rx="10" ry="16" fill="#b0b0b0"/><ellipse cx="40" cy="22" rx="34" ry="10" fill="#c5c5c5"/><ellipse cx="45" cy="8" rx="22" ry="8" fill="#c0c0c0"/><ellipse cx="42" cy="36" rx="32" ry="20" fill="#cdcdcd"/><ellipse cx="30" cy="6" rx="8" ry="7" fill="#c4c4c4"/><ellipse cx="58" cy="6" rx="8" ry="7" fill="#e2e2e2"/><ellipse cx="4" cy="25" rx="5" ry="6" fill="#b5b5b5"/><ellipse cx="37" cy="66" rx="17" ry="11.5" fill="#f6f6f6"/></g><path d="M100,72 Q96,94 78,101" stroke="#a0a0a0" stroke-width="1.6" fill="none"/></svg>
<text x="549.2" y="108.4" font-size="11.5" font-style="italic" fill="#000" textLength="48.4" lengthAdjust="spacingAndGlyphs">Unlabeled</text>
<text x="554.6" y="119.8" font-size="11.5" font-style="italic" fill="#000" textLength="38.0" lengthAdjust="spacingAndGlyphs">image 1</text>
<text x="562.0" y="156.6" font-size="11.5" font-style="italic" fill="#000" textLength="23.2" lengthAdjust="spacingAndGlyphs">Atlas</text>
<text x="552.6" y="168.2" font-size="11.5" font-style="italic" fill="#000" textLength="42.4" lengthAdjust="spacingAndGlyphs">(labeled)</text>
<svg x="555.9" y="171.7" width="35.0" height="35.3" viewBox="0 0 100 100" preserveAspectRatio="none" overflow="hidden"><rect width="100" height="100" fill="#0c0c0c"/><g filter="url(#b2)"><ellipse cx="50" cy="60" rx="40" ry="40" fill="#9c9c9c"/><ellipse cx="44" cy="12" rx="16" ry="8" fill="#a8a8a8"/><circle cx="76" cy="13" r="5" fill="#cfcfcf"/><circle cx="76" cy="13" r="2.5" fill="#111"/></g><g filter="url(#b05)"><ellipse cx="46" cy="35" rx="25" ry="11" fill="#4c6a8c"/><ellipse cx="22" cy="64" rx="11" ry="16" fill="#6a9ad0"/><ellipse cx="45" cy="57" rx="10" ry="12" fill="#9a6c8c"/><ellipse cx="69" cy="57" rx="11" ry="12" fill="#c9a07e"/><ellipse cx="60" cy="81" rx="17" ry="10" fill="#5a9a7c"/></g></svg>
<text x="734.8" y="157.0" font-size="11.5" font-style="italic" fill="#000" textLength="49.4" lengthAdjust="spacingAndGlyphs">Unlabeled</text>
<text x="741.8" y="168.5" font-size="11.5" font-style="italic" fill="#000" textLength="36.4" lengthAdjust="spacingAndGlyphs">image 2</text>
<svg x="742.2" y="171.6" width="34.7" height="34.9" viewBox="0 0 100 100" preserveAspectRatio="none" overflow="hidden"><rect width="100" height="100" fill="#0c0c0c"/><g filter="url(#b2)"><ellipse cx="50" cy="45" rx="38" ry="36" fill="#262626"/><ellipse cx="54" cy="31" rx="19" ry="15" fill="#5c5c5c"/><ellipse cx="20" cy="47" rx="11" ry="13" fill="#626262"/><ellipse cx="38" cy="73" rx="30" ry="10" fill="#b8b8b8"/><ellipse cx="44" cy="49" rx="11" ry="11" fill="#f2f2f2"/><ellipse cx="28" cy="96" rx="5" ry="4" fill="#dddddd"/><ellipse cx="52" cy="96" rx="5" ry="4" fill="#dddddd"/></g></svg>
<line x1="615" y1="74.6" x2="723" y2="74.6" stroke="#9a9a9a" stroke-width="1.5" stroke-dasharray="4.5 3"/>
<line x1="729.3" y1="81" x2="729.3" y2="190" stroke="#9a9a9a" stroke-width="1.5" stroke-dasharray="4.5 3"/>
<rect x="604.4" y="90" width="4.9" height="104" fill="#5b67c9"/>
<path d="M599.4,93 L614.4,93 L606.9,77.5 Z" fill="#5b67c9"/>
<polygon points="606.90,66.40 608.79,72.20 614.89,72.20 609.95,75.79 611.84,81.60 606.90,78.01 601.96,81.60 603.85,75.79 598.91,72.20 605.01,72.20" fill="#7f7f7f" stroke="#5b67c9" stroke-width="1.0" stroke-linejoin="miter"/>
<rect x="612" y="195.1" width="99" height="4.6" fill="#dc8a45"/>
<path d="M709.5,189.8 L724.5,197.4 L709.5,205 Z" fill="#dc8a45"/>
<polygon points="729.30,189.60 731.01,194.85 736.53,194.85 732.06,198.10 733.77,203.35 729.30,200.10 724.83,203.35 726.54,198.10 722.07,194.85 727.59,194.85" fill="#7f7f7f" stroke="#dc8a45" stroke-width="1.0" stroke-linejoin="miter"/>
<polygon points="606.80,188.20 608.73,194.14 614.98,194.14 609.92,197.82 611.85,203.76 606.80,200.09 601.75,203.76 603.68,197.82 598.62,194.14 604.87,194.14" fill="#000" stroke="none" stroke-width="0" stroke-linejoin="miter"/>
<text transform="translate(622.4,176.7) rotate(-90)" font-size="17.5" font-weight="bold" fill="#5b67c9" textLength="74.8" lengthAdjust="spacingAndGlyphs">Transform</text>
<text transform="translate(638.3,158.0) rotate(-90)" font-size="17.5" font-weight="bold" fill="#5b67c9" textLength="37.4" lengthAdjust="spacingAndGlyphs">space</text>
<text x="633.4" y="174.4" font-size="17.5" font-weight="bold" fill="#dc8a45" textLength="75.6" lengthAdjust="spacingAndGlyphs">Transform</text>
<text x="653.0" y="189.5" font-size="17.5" font-weight="bold" fill="#dc8a45" textLength="32.2" lengthAdjust="spacingAndGlyphs">style</text>
<text x="765.6" y="79.6" font-size="13.5" font-weight="bold" fill="#000" textLength="112.0" lengthAdjust="spacingAndGlyphs">Directly transform</text>
<text x="881.0" y="79.6" font-size="13.5" fill="#000" textLength="31.0" lengthAdjust="spacingAndGlyphs">space</text>
<text x="755.0" y="93.2" font-size="13.5" fill="#000" textLength="51.0" lengthAdjust="spacingAndGlyphs">and style</text>
<text x="808.8" y="93.2" font-size="13.5" font-weight="bold" fill="#000" textLength="11.2" lengthAdjust="spacingAndGlyphs">to</text>
<text x="824.2" y="93.2" font-size="13.5" fill="#000" textLength="96.8" lengthAdjust="spacingAndGlyphs">unlabeled images</text>
<ellipse cx="893.8" cy="156" rx="73.6" ry="53.5" fill="#e1e5f7"/>
<g filter="url(#bp)" fill="#e8aab0"><ellipse cx="870.5" cy="130.2" rx="29" ry="13"/><ellipse cx="867.5" cy="161" rx="27.5" ry="11.5"/><ellipse cx="931" cy="147.9" rx="27" ry="10.5" transform="rotate(-50 931 147.9)"/><ellipse cx="899.4" cy="188.7" rx="14.5" ry="11"/></g>
<circle cx="855.9" cy="132.8" r="5.2" fill="#a8161b"/>
<circle cx="878.5" cy="121.4" r="5.2" fill="#a8161b"/>
<circle cx="883.1" cy="133.5" r="5.2" fill="#a8161b"/>
<circle cx="852.9" cy="161" r="5.2" fill="#a8161b"/>
<circle cx="880" cy="161" r="5.2" fill="#a8161b"/>
<circle cx="939" cy="140.3" r="5.2" fill="#a8161b"/>
<circle cx="923.9" cy="154.9" r="5.2" fill="#a8161b"/>
<circle cx="899.4" cy="188.9" r="5.2" fill="#a8161b"/>
<line x1="735.0" y1="78.0" x2="845.6" y2="127.6" stroke="#a8161b" stroke-width="1.5" stroke-dasharray="4.5 3"/>
<path d="M852.0,130.5 L841.9,130.9 L845.8,127.7 L845.6,122.7 Z" fill="#a8161b"/>
<path d="M761.7,87.5 C761,78 752,74.5 742,74.6" fill="none" stroke="#000" stroke-width="1.2" stroke-dasharray="3 2"/>
<path d="M735.5,74.6 L743.0,70.8 L741.1,74.6 L743.0,78.4 Z" fill="#000"/>
<circle cx="729.2" cy="74.6" r="6.0" fill="#a8161b" filter="url(#sh)"/>
<ellipse cx="945.3" cy="80.7" rx="12.5" ry="4.9" fill="#dde1f2"/>
<ellipse cx="945.3" cy="98.9" rx="11" ry="3.8" fill="#e9b3b7" filter="url(#b05)"/>
<circle cx="975.5" cy="114.9" r="5.3" fill="#a8161b"/>
<text x="963.8" y="83.6" font-size="11.5" font-style="italic" fill="#000" textLength="78.2" lengthAdjust="spacingAndGlyphs">Real distribution</text>
<text x="961.6" y="101.5" font-size="11.5" font-style="italic" fill="#000" textLength="106.4" lengthAdjust="spacingAndGlyphs">Generated distribution</text>
<text x="986.0" y="117.5" font-size="11.5" font-style="italic" fill="#000" textLength="72.8" lengthAdjust="spacingAndGlyphs">Generated data</text>
<text x="997.8" y="155.8" font-size="17" font-weight="bold" fill="#5b67c9" textLength="48.2" lengthAdjust="spacingAndGlyphs">Sparse</text>
<text x="987.4" y="172.2" font-size="17" font-weight="bold" fill="#000" textLength="67.4" lengthAdjust="spacingAndGlyphs">generated</text>
<text x="981.0" y="188.3" font-size="17" font-weight="bold" fill="#000" textLength="81.6" lengthAdjust="spacingAndGlyphs">distribution</text>
<path d="M834.7,159.7 C807.0,160 793.5,176 793.5,203.5" fill="none" stroke="#808080" stroke-width="2.1"/>
<path d="M787.6,203.5 L799.4,203.5 L793.5,212.6 Z" fill="#fff" stroke="#808080" stroke-width="1.5" stroke-linejoin="miter"/>
<text x="554.8" y="228.4" font-size="21" font-weight="bold" fill="#a8191c" textLength="101.0" lengthAdjust="spacingAndGlyphs">Limitation:</text>
<text x="660.6" y="228.4" font-size="21" font-weight="bold" fill="#000" textLength="145.2" lengthAdjust="spacingAndGlyphs">Lack of diversity</text>
<text x="813.2" y="228.4" font-size="21" fill="#000" textLength="257.0" lengthAdjust="spacingAndGlyphs">in generated sparse distribution</text>
<text x="558.0" y="257.9" font-size="20.5" font-weight="bold" fill="#000" textLength="512.2" lengthAdjust="spacingAndGlyphs">e) Our S3P generates data in continuous transformation process</text>
<svg x="555.9" y="265.5" width="35.0" height="35.3" viewBox="0 0 100 100" preserveAspectRatio="none" overflow="hidden"><rect width="100" height="100" fill="#0c0c0c"/><circle cx="75.8" cy="47.4" r="1.5" fill="#4a4a4a"/><circle cx="79.1" cy="29.8" r="1.1" fill="#4a4a4a"/><circle cx="90.2" cy="44.4" r="0.7" fill="#4a4a4a"/><circle cx="72.8" cy="46.8" r="1.1" fill="#4a4a4a"/><circle cx="93.3" cy="5.1" r="1.1" fill="#4a4a4a"/><circle cx="92.2" cy="16.4" r="1.7" fill="#4a4a4a"/><circle cx="97.2" cy="6.5" r="0.6" fill="#4a4a4a"/><circle cx="87.2" cy="52.0" r="1.1" fill="#4a4a4a"/><circle cx="78.1" cy="26.1" r="0.6" fill="#4a4a4a"/><circle cx="78.2" cy="26.9" r="1.2" fill="#4a4a4a"/><circle cx="78.5" cy="16.5" r="0.9" fill="#4a4a4a"/><circle cx="84.9" cy="19.5" r="0.6" fill="#4a4a4a"/><circle cx="95.5" cy="32.8" r="1.4" fill="#4a4a4a"/><circle cx="77.2" cy="54.6" r="1.6" fill="#4a4a4a"/><circle cx="75.4" cy="21.6" r="1.5" fill="#4a4a4a"/><circle cx="91.9" cy="51.8" r="1.1" fill="#4a4a4a"/><circle cx="95.2" cy="38.5" r="1.0" fill="#4a4a4a"/><circle cx="88.5" cy="49.1" r="1.6" fill="#4a4a4a"/><circle cx="86.1" cy="34.5" r="0.6" fill="#4a4a4a"/><circle cx="78.8" cy="44.9" r="1.1" fill="#4a4a4a"/><circle cx="76.8" cy="32.4" r="1.4" fill="#4a4a4a"/><circle cx="90.9" cy="23.7" r="1.1" fill="#4a4a4a"/><circle cx="86.2" cy="43.9" r="1.2" fill="#4a4a4a"/><circle cx="83.0" cy="29.5" r="0.6" fill="#4a4a4a"/><circle cx="73.2" cy="40.2" r="1.8" fill="#4a4a4a"/><circle cx="88.6" cy="24.7" r="0.8" fill="#4a4a4a"/><circle cx="86.1" cy="54.1" r="1.5" fill="#4a4a4a"/><circle cx="87.1" cy="48.0" r="0.9" fill="#4a4a4a"/><circle cx="86.4" cy="52.6" r="1.3" fill="#4a4a4a"/><circle cx="84.9" cy="18.5" r="1.3" fill="#4a4a4a"/><g filter="url(#b2)"><ellipse cx="50" cy="67" rx="46" ry="37" fill="#9c9c9c"/><ellipse cx="52" cy="97" rx="32" ry="6" fill="#a6a6a6"/><ellipse cx="72" cy="70" rx="18" ry="22" fill="#909090"/><ellipse cx="12" cy="58" rx="10" ry="16" fill="#b0b0b0"/><ellipse cx="40" cy="22" rx="34" ry="10" fill="#c5c5c5"/><ellipse cx="45" cy="8" rx="22" ry="8" fill="#c0c0c0"/><ellipse cx="42" cy="36" rx="32" ry="20" fill="#cdcdcd"/><ellipse cx="30" cy="6" rx="8" ry="7" fill="#c4c4c4"/><ellipse cx="58" cy="6" rx="8" ry="7" fill="#e2e2e2"/><ellipse cx="4" cy="25" rx="5" ry="6" fill="#b5b5b5"/><ellipse cx="37" cy="66" rx="17" ry="11.5" fill="#f6f6f6"/></g><path d="M100,72 Q96,94 78,101" stroke="#a0a0a0" stroke-width="1.6" fill="none"/></svg>
<text x="549.2" y="308.9" font-size="11.5" font-style="italic" fill="#000" textLength="48.4" lengthAdjust="spacingAndGlyphs">Unlabeled</text>
<text x="554.6" y="320.7" font-size="11.5" font-style="italic" fill="#000" textLength="38.0" lengthAdjust="spacingAndGlyphs">image 1</text>
<text x="562.0" y="358.0" font-size="11.5" font-style="italic" fill="#000" textLength="23.2" lengthAdjust="spacingAndGlyphs">Atlas</text>
<text x="552.6" y="369.5" font-size="11.5" font-style="italic" fill="#000" textLength="42.4" lengthAdjust="spacingAndGlyphs">(labeled)</text>
<svg x="556.3" y="372.4" width="34.4" height="34.3" viewBox="0 0 100 100" preserveAspectRatio="none" overflow="hidden"><rect width="100" height="100" fill="#0c0c0c"/><g filter="url(#b2)"><ellipse cx="50" cy="60" rx="40" ry="40" fill="#9c9c9c"/><ellipse cx="44" cy="12" rx="16" ry="8" fill="#a8a8a8"/><circle cx="76" cy="13" r="5" fill="#cfcfcf"/><circle cx="76" cy="13" r="2.5" fill="#111"/></g><g filter="url(#b05)"><ellipse cx="46" cy="35" rx="25" ry="11" fill="#4c6a8c"/><ellipse cx="22" cy="64" rx="11" ry="16" fill="#6a9ad0"/><ellipse cx="45" cy="57" rx="10" ry="12" fill="#9a6c8c"/><ellipse cx="69" cy="57" rx="11" ry="12" fill="#c9a07e"/><ellipse cx="60" cy="81" rx="17" ry="10" fill="#5a9a7c"/></g></svg>
<svg x="741.9" y="372.4" width="35.4" height="34.3" viewBox="0 0 100 100" preserveAspectRatio="none" overflow="hidden"><rect width="100" height="100" fill="#0c0c0c"/><g filter="url(#b2)"><ellipse cx="50" cy="45" rx="38" ry="36" fill="#262626"/><ellipse cx="54" cy="31" rx="19" ry="15" fill="#5c5c5c"/><ellipse cx="20" cy="47" rx="11" ry="13" fill="#626262"/><ellipse cx="38" cy="73" rx="30" ry="10" fill="#b8b8b8"/><ellipse cx="44" cy="49" rx="11" ry="11" fill="#f2f2f2"/><ellipse cx="28" cy="96" rx="5" ry="4" fill="#dddddd"/><ellipse cx="52" cy="96" rx="5" ry="4" fill="#dddddd"/></g></svg>
<rect x="609.3" y="275.2" width="120.3" height="120" fill="url(#sqg)"/>
<path d="M609.3,275.2 L729.6,275.2 L729.6,395" fill="none" stroke="#a0a0a0" stroke-width="1.6"/>
<circle cx="621.4" cy="287" r="5.6" fill="#ec9ea3" opacity="0.38"/>
<circle cx="656.7" cy="288.8" r="5.6" fill="#ec9ea3" opacity="0.38"/>
<circle cx="617" cy="301.7" r="5.6" fill="#ec9ea3" opacity="0.38"/>
<circle cx="633.7" cy="302.3" r="5.6" fill="#ec9ea3" opacity="0.38"/>
<circle cx="649" cy="298.6" r="5.6" fill="#ec9ea3" opacity="0.38"/>
<circle cx="664.3" cy="300.2" r="5.6" fill="#ec9ea3" opacity="0.38"/>
<circle cx="678" cy="295.6" r="5.6" fill="#ec9ea3" opacity="0.38"/>
<circle cx="718" cy="289.4" r="5.6" fill="#ec9ea3" opacity="0.38"/>
<circle cx="618.4" cy="315.5" r="5.6" fill="#ec9ea3" opacity="0.38"/>
<circle cx="636.8" cy="318.6" r="5.6" fill="#ec9ea3" opacity="0.38"/>
<circle cx="649" cy="324.7" r="5.6" fill="#ec9ea3" opacity="0.38"/>
<circle cx="662.8" cy="326.2" r="5.6" fill="#ec9ea3" opacity="0.38"/>
<circle cx="679.6" cy="309.4" r="5.6" fill="#ec9ea3" opacity="0.38"/>
<circle cx="692" cy="315.5" r="5.6" fill="#ec9ea3" opacity="0.38"/>
<circle cx="711.8" cy="309.4" r="5.6" fill="#ec9ea3" opacity="0.38"/>
<circle cx="721" cy="321.6" r="5.6" fill="#ec9ea3" opacity="0.38"/>
<circle cx="629.1" cy="333.9" r="5.6" fill="#ec9ea3" opacity="0.38"/>
<circle cx="643" cy="341.5" r="5.6" fill="#ec9ea3" opacity="0.38"/>
<circle cx="685.8" cy="327.8" r="5.6" fill="#ec9ea3" opacity="0.38"/>
<circle cx="701" cy="327.8" r="5.6" fill="#ec9ea3" opacity="0.38"/>
<circle cx="716.5" cy="336.9" r="5.6" fill="#ec9ea3" opacity="0.38"/>
<circle cx="620" cy="341.5" r="5.6" fill="#ec9ea3" opacity="0.38"/>
<circle cx="627.6" cy="352.2" r="5.6" fill="#ec9ea3" opacity="0.38"/>
<circle cx="656.7" cy="347.6" r="5.6" fill="#ec9ea3" opacity="0.38"/>
<circle cx="670.5" cy="352.2" r="5.6" fill="#ec9ea3" opacity="0.38"/>
<circle cx="689" cy="342.5" r="5.6" fill="#ec9ea3" opacity="0.38"/>
<circle cx="723" cy="355.5" r="5.6" fill="#ec9ea3" opacity="0.38"/>
<circle cx="617" cy="361.4" r="5.6" fill="#ec9ea3" opacity="0.38"/>
<circle cx="644.5" cy="361.4" r="5.6" fill="#ec9ea3" opacity="0.38"/>
<circle cx="672" cy="364.4" r="5.6" fill="#ec9ea3" opacity="0.38"/>
<circle cx="705" cy="356.7" r="5.6" fill="#ec9ea3" opacity="0.38"/>
<circle cx="621.4" cy="381.3" r="5.6" fill="#ec9ea3" opacity="0.38"/>
<circle cx="639.8" cy="383.2" r="5.6" fill="#ec9ea3" opacity="0.38"/>
<circle cx="664.3" cy="377.1" r="5.6" fill="#ec9ea3" opacity="0.38"/>
<circle cx="684.3" cy="373.9" r="5.6" fill="#ec9ea3" opacity="0.38"/>
<circle cx="713.4" cy="378.6" r="5.6" fill="#ec9ea3" opacity="0.38"/>
<circle cx="700.6" cy="385.5" r="5.6" fill="#ec9ea3" opacity="0.38"/>
<circle cx="651.3" cy="391.5" r="5.6" fill="#ec9ea3" opacity="0.38"/>
<circle cx="724" cy="368.5" r="5.6" fill="#ec9ea3" opacity="0.38"/>
<circle cx="635" cy="373" r="5.6" fill="#ec9ea3" opacity="0.38"/>
<line x1="611" y1="293.5" x2="699.2" y2="293.5" stroke="#8a8a8a" stroke-width="1.4" stroke-dasharray="4.5 2.6"/>
<line x1="699.2" y1="293.5" x2="699.2" y2="394" stroke="#8a8a8a" stroke-width="1.4" stroke-dasharray="4.5 2.6"/>
<line x1="611" y1="313.4" x2="655.7" y2="313.4" stroke="#8a8a8a" stroke-width="1.4" stroke-dasharray="4.5 2.6"/>
<line x1="655.7" y1="313.4" x2="655.7" y2="394" stroke="#8a8a8a" stroke-width="1.4" stroke-dasharray="4.5 2.6"/>
<line x1="611" y1="342.2" x2="647.7" y2="342.2" stroke="#8a8a8a" stroke-width="1.4" stroke-dasharray="4.5 2.6"/>
<line x1="647.7" y1="342.2" x2="647.7" y2="394" stroke="#8a8a8a" stroke-width="1.4" stroke-dasharray="4.5 2.6"/>
<line x1="611" y1="351.7" x2="708.4" y2="351.7" stroke="#8a8a8a" stroke-width="1.4" stroke-dasharray="4.5 2.6"/>
<line x1="708.4" y1="351.7" x2="708.4" y2="394" stroke="#8a8a8a" stroke-width="1.4" stroke-dasharray="4.5 2.6"/>
<line x1="611" y1="370.1" x2="624.1" y2="370.1" stroke="#8a8a8a" stroke-width="1.4" stroke-dasharray="4.5 2.6"/>
<line x1="624.1" y1="370.1" x2="624.1" y2="394" stroke="#8a8a8a" stroke-width="1.4" stroke-dasharray="4.5 2.6"/>
<line x1="611" y1="366.7" x2="692.4" y2="366.7" stroke="#8a8a8a" stroke-width="1.4" stroke-dasharray="4.5 2.6"/>
<line x1="692.4" y1="366.7" x2="692.4" y2="394" stroke="#8a8a8a" stroke-width="1.4" stroke-dasharray="4.5 2.6"/>
<rect x="604.4" y="290" width="4.9" height="104" fill="#5b67c9"/>
<path d="M599.4,293 L614.4,293 L606.9,277.5 Z" fill="#5b67c9"/>
<polygon points="606.90,266.20 608.79,272.00 614.89,272.00 609.95,275.59 611.84,281.40 606.90,277.81 601.96,281.40 603.85,275.59 598.91,272.00 605.01,272.00" fill="#7f7f7f" stroke="#5b67c9" stroke-width="1.0" stroke-linejoin="miter"/>
<rect x="612" y="395.0" width="99" height="4.6" fill="#dc8a45"/>
<path d="M709.5,389.7 L724.5,397.3 L709.5,404.9 Z" fill="#dc8a45"/>
<polygon points="729.60,389.70 731.31,394.95 736.83,394.95 732.36,398.20 734.07,403.45 729.60,400.20 725.13,403.45 726.84,398.20 722.37,394.95 727.89,394.95" fill="#7f7f7f" stroke="#dc8a45" stroke-width="1.0" stroke-linejoin="miter"/>
<polygon points="606.60,388.30 608.53,394.24 614.78,394.24 609.72,397.92 611.65,403.86 606.60,400.19 601.55,403.86 603.48,397.92 598.42,394.24 604.67,394.24" fill="#000" stroke="none" stroke-width="0" stroke-linejoin="miter"/>
<text x="735.8" y="358.0" font-size="11.5" font-style="italic" fill="#1a1a2a" textLength="48.4" lengthAdjust="spacingAndGlyphs">Unlabeled</text>
<text x="741.6" y="369.5" font-size="11.5" font-style="italic" fill="#1a1a2a" textLength="36.6" lengthAdjust="spacingAndGlyphs">image 2</text>
<ellipse cx="893.9" cy="354.7" rx="73.3" ry="52.2" fill="#e1e5f7"/>
<ellipse cx="890" cy="352" rx="66" ry="47" fill="url(#dg)"/>
<circle cx="896.0" cy="320.2" r="5.1" fill="#a8161b"/>
<circle cx="904.3" cy="318.4" r="5.1" fill="#a8161b"/>
<circle cx="914.3" cy="321.4" r="5.1" fill="#a8161b"/>
<circle cx="875.4" cy="323.4" r="5.1" fill="#a8161b"/>
<circle cx="886.7" cy="323.4" r="5.1" fill="#a8161b"/>
<circle cx="862.8" cy="325.2" r="5.1" fill="#a8161b"/>
<circle cx="924.4" cy="325.7" r="5.1" fill="#a8161b"/>
<circle cx="854.0" cy="332.7" r="5.1" fill="#a8161b"/>
<circle cx="866.6" cy="332.2" r="5.1" fill="#a8161b"/>
<circle cx="876.6" cy="332.7" r="5.1" fill="#a8161b"/>
<circle cx="886.7" cy="331.5" r="5.1" fill="#a8161b"/>
<circle cx="898.0" cy="330.2" r="5.1" fill="#a8161b"/>
<circle cx="911.8" cy="330.2" r="5.1" fill="#a8161b"/>
<circle cx="933.2" cy="331.5" r="5.1" fill="#a8161b"/>
<circle cx="918.1" cy="338.3" r="5.1" fill="#a8161b"/>
<circle cx="928.2" cy="339.0" r="5.1" fill="#a8161b"/>
<circle cx="940.8" cy="341.0" r="5.1" fill="#a8161b"/>
<circle cx="844.7" cy="342.8" r="5.1" fill="#a8161b"/>
<circle cx="860.3" cy="341.0" r="5.1" fill="#a8161b"/>
<circle cx="872.8" cy="341.5" r="5.1" fill="#a8161b"/>
<circle cx="884.2" cy="340.3" r="5.1" fill="#a8161b"/>
<circle cx="894.2" cy="339.0" r="5.1" fill="#a8161b"/>
<circle cx="905.5" cy="339.0" r="5.1" fill="#a8161b"/>
<circle cx="914.3" cy="346.6" r="5.1" fill="#a8161b"/>
<circle cx="893.5" cy="346.6" r="5.1" fill="#a8161b"/>
<circle cx="870.3" cy="347.8" r="5.1" fill="#a8161b"/>
<circle cx="881.6" cy="349.8" r="5.1" fill="#a8161b"/>
<circle cx="901.8" cy="350.8" r="5.1" fill="#a8161b"/>
<circle cx="845.2" cy="354.9" r="5.1" fill="#a8161b"/>
<circle cx="856.5" cy="350.3" r="5.1" fill="#a8161b"/>
<circle cx="865.3" cy="354.1" r="5.1" fill="#a8161b"/>
<circle cx="876.6" cy="356.6" r="5.1" fill="#a8161b"/>
<circle cx="887.9" cy="355.4" r="5.1" fill="#a8161b"/>
<circle cx="895.5" cy="356.6" r="5.1" fill="#a8161b"/>
<circle cx="908.1" cy="354.1" r="5.1" fill="#a8161b"/>
<circle cx="920.6" cy="357.9" r="5.1" fill="#a8161b"/>
<circle cx="928.2" cy="352.3" r="5.1" fill="#a8161b"/>
<circle cx="937.0" cy="352.8" r="5.1" fill="#a8161b"/>
<circle cx="948.3" cy="352.8" r="5.1" fill="#a8161b"/>
<circle cx="852.7" cy="359.9" r="5.1" fill="#a8161b"/>
<circle cx="870.3" cy="360.9" r="5.1" fill="#a8161b"/>
<circle cx="881.6" cy="360.9" r="5.1" fill="#a8161b"/>
<circle cx="893.0" cy="361.6" r="5.1" fill="#a8161b"/>
<circle cx="905.5" cy="360.9" r="5.1" fill="#a8161b"/>
<circle cx="849.0" cy="367.9" r="5.1" fill="#a8161b"/>
<circle cx="862.8" cy="367.9" r="5.1" fill="#a8161b"/>
<circle cx="876.6" cy="366.7" r="5.1" fill="#a8161b"/>
<circle cx="887.9" cy="367.4" r="5.1" fill="#a8161b"/>
<circle cx="895.5" cy="365.9" r="5.1" fill="#a8161b"/>
<circle cx="905.5" cy="371.7" r="5.1" fill="#a8161b"/>
<circle cx="916.9" cy="369.2" r="5.1" fill="#a8161b"/>
<circle cx="925.7" cy="365.4" r="5.1" fill="#a8161b"/>
<circle cx="940.8" cy="365.9" r="5.1" fill="#a8161b"/>
<circle cx="855.2" cy="375.0" r="5.1" fill="#a8161b"/>
<circle cx="860.3" cy="380.0" r="5.1" fill="#a8161b"/>
<circle cx="871.6" cy="376.0" r="5.1" fill="#a8161b"/>
<circle cx="882.9" cy="376.0" r="5.1" fill="#a8161b"/>
<circle cx="894.2" cy="380.0" r="5.1" fill="#a8161b"/>
<circle cx="908.1" cy="378.0" r="5.1" fill="#a8161b"/>
<circle cx="918.1" cy="381.8" r="5.1" fill="#a8161b"/>
<circle cx="925.7" cy="376.0" r="5.1" fill="#a8161b"/>
<circle cx="937.0" cy="376.0" r="5.1" fill="#a8161b"/>
<circle cx="871.6" cy="389.3" r="5.1" fill="#a8161b"/>
<circle cx="884.2" cy="386.3" r="5.1" fill="#a8161b"/>
<circle cx="894.2" cy="393.1" r="5.1" fill="#a8161b"/>
<circle cx="903.0" cy="386.8" r="5.1" fill="#a8161b"/>
<circle cx="914.3" cy="386.8" r="5.1" fill="#a8161b"/>
<circle cx="850.2" cy="346.6" r="5.1" fill="#a8161b"/>
<circle cx="840.2" cy="349.1" r="5.1" fill="#a8161b"/>
<circle cx="841.4" cy="356.6" r="5.1" fill="#a8161b"/>
<line x1="699.2" y1="293.5" x2="842.0" y2="330.4" stroke="#a8161b" stroke-width="1.5" stroke-dasharray="4.5 3"/>
<path d="M848.8,332.1 L839.0,334.2 L842.3,330.4 L841.2,325.5 Z" fill="#a8161b"/>
<line x1="655.7" y1="313.4" x2="836.5" y2="338.5" stroke="#a8161b" stroke-width="1.5" stroke-dasharray="4.5 3"/>
<path d="M843.4,339.5 L833.9,342.7 L836.7,338.6 L835.1,333.8 Z" fill="#a8161b"/>
<line x1="647.7" y1="342.2" x2="830.9" y2="344.9" stroke="#a8161b" stroke-width="1.5" stroke-dasharray="4.5 3"/>
<path d="M837.9,345.0 L828.8,349.4 L831.2,344.9 L829.0,340.4 Z" fill="#a8161b"/>
<line x1="708.4" y1="351.7" x2="833.0" y2="355.3" stroke="#a8161b" stroke-width="1.5" stroke-dasharray="4.5 3"/>
<path d="M840.0,355.5 L830.9,359.7 L833.3,355.3 L831.1,350.7 Z" fill="#a8161b"/>
<line x1="624.1" y1="370.1" x2="835.3" y2="360.8" stroke="#a8161b" stroke-width="1.5" stroke-dasharray="4.5 3"/>
<path d="M842.3,360.5 L833.5,365.4 L835.6,360.8 L833.1,356.4 Z" fill="#a8161b"/>
<line x1="692.4" y1="366.7" x2="834.0" y2="363.7" stroke="#a8161b" stroke-width="1.5" stroke-dasharray="4.5 3"/>
<path d="M841.0,363.5 L832.1,368.2 L834.3,363.6 L831.9,359.2 Z" fill="#a8161b"/>
<circle cx="699.2" cy="293.5" r="6.0" fill="#a8161b" filter="url(#sh)"/>
<circle cx="655.7" cy="313.4" r="6.0" fill="#a8161b" filter="url(#sh)"/>
<circle cx="647.7" cy="342.2" r="6.0" fill="#a8161b" filter="url(#sh)"/>
<circle cx="708.4" cy="351.7" r="6.0" fill="#a8161b" filter="url(#sh)"/>
<circle cx="624.1" cy="370.1" r="6.0" fill="#a8161b" filter="url(#sh)"/>
<circle cx="692.4" cy="366.7" r="6.0" fill="#a8161b" filter="url(#sh)"/>
<path d="M741.6,276.5 L730,276.5 C719,277 712,281 708,285" fill="none" stroke="#000" stroke-width="1.2" stroke-dasharray="3 2"/>
<path d="M703.5,289.5 L706.1,281.5 L707.5,285.5 L711.5,286.9 Z" fill="#000"/>
<text x="742.6" y="282.6" font-size="13.5" font-weight="bold" fill="#000" textLength="91.2" lengthAdjust="spacingAndGlyphs">Densely sample</text>
<text x="838.0" y="282.6" font-size="13.5" fill="#000" textLength="95.8" lengthAdjust="spacingAndGlyphs">spaces and styles</text>
<text x="751.4" y="296.2" font-size="13.5" font-weight="bold" fill="#000" textLength="39.8" lengthAdjust="spacingAndGlyphs">during</text>
<text x="795.4" y="296.2" font-size="13.5" fill="#000" textLength="82.2" lengthAdjust="spacingAndGlyphs">transformation</text>
<text x="881.8" y="296.2" font-size="13.5" font-weight="bold" fill="#000" textLength="43.2" lengthAdjust="spacingAndGlyphs">process</text>
<text x="1000.8" y="351.6" font-size="16.5" font-weight="bold" fill="#a8191c" textLength="42.0" lengthAdjust="spacingAndGlyphs">Dense</text>
<text x="987.8" y="367.3" font-size="17" font-weight="bold" fill="#000" textLength="67.4" lengthAdjust="spacingAndGlyphs">generated</text>
<text x="981.0" y="384.3" font-size="17" font-weight="bold" fill="#000" textLength="81.6" lengthAdjust="spacingAndGlyphs">distribution</text>
<text x="562.6" y="428.6" font-size="21" font-weight="bold" fill="#a8191c" textLength="102.0" lengthAdjust="spacingAndGlyphs">Advantage:</text>
<text x="669.6" y="428.6" font-size="21" font-weight="bold" fill="#000" textLength="134.0" lengthAdjust="spacingAndGlyphs">Better diversity</text>
<text x="810.6" y="428.6" font-size="21" fill="#000" textLength="251.0" lengthAdjust="spacingAndGlyphs">in generated dense distribution</text>
<text x="1188.6" y="58.5" font-size="20.5" font-weight="bold" fill="#000" textLength="330.2" lengthAdjust="spacingAndGlyphs">c) Existing method fits inaccurate labels</text>
<text x="1383.8" y="81.5" font-size="13.5" font-style="italic" fill="#000" textLength="223.0" lengthAdjust="spacingAndGlyphs">Inaccurate labels in misaligned regions</text>
<path d="M1190.6,129.1 L1471.2,129.1 L1471.2,124 L1482.7,135.3 L1471.2,148 L1471.2,141.5 L1190.6,141.5 Z" fill="#bfbfbf"/>
<svg x="1115.8" y="101.9" width="66.5" height="66.6" viewBox="0 0 100 100" preserveAspectRatio="none" overflow="hidden"><rect width="100" height="100" fill="#0c0c0c"/><circle cx="23.8" cy="54.4" r="1.0" fill="#5a5a5a"/><circle cx="60.4" cy="62.6" r="0.7" fill="#5a5a5a"/><circle cx="1.3" cy="83.7" r="0.9" fill="#5a5a5a"/><circle cx="23.4" cy="99.6" r="1.2" fill="#5a5a5a"/><circle cx="83.6" cy="47.6" r="1.4" fill="#5a5a5a"/><circle cx="15.1" cy="63.5" r="1.6" fill="#5a5a5a"/><circle cx="52.3" cy="74.1" r="1.4" fill="#5a5a5a"/><circle cx="6.4" cy="75.8" r="1.3" fill="#5a5a5a"/><circle cx="30.1" cy="3.1" r="1.6" fill="#5a5a5a"/><circle cx="47.3" cy="71.9" r="1.7" fill="#5a5a5a"/><circle cx="71.4" cy="92.1" r="1.1" fill="#5a5a5a"/><circle cx="80.1" cy="44.5" r="1.7" fill="#5a5a5a"/><circle cx="87.9" cy="9.7" r="0.8" fill="#5a5a5a"/><circle cx="21.7" cy="96.5" r="1.1" fill="#5a5a5a"/><circle cx="62.7" cy="30.1" r="1.2" fill="#5a5a5a"/><circle cx="38.6" cy="35.1" r="1.3" fill="#5a5a5a"/><circle cx="58.4" cy="90.4" r="1.4" fill="#5a5a5a"/><circle cx="92.9" cy="85.6" r="1.8" fill="#5a5a5a"/><circle cx="67.1" cy="16.3" r="1.6" fill="#5a5a5a"/><circle cx="96.5" cy="90.5" r="1.3" fill="#5a5a5a"/><circle cx="71.4" cy="21.1" r="1.6" fill="#5a5a5a"/><circle cx="57.4" cy="28.5" r="0.7" fill="#5a5a5a"/><circle cx="85.4" cy="99.0" r="0.7" fill="#5a5a5a"/><circle cx="80.1" cy="41.0" r="0.8" fill="#5a5a5a"/><circle cx="29.4" cy="76.9" r="1.6" fill="#5a5a5a"/><circle cx="4.4" cy="61.5" r="0.7" fill="#5a5a5a"/><circle cx="71.8" cy="33.1" r="1.7" fill="#5a5a5a"/><circle cx="98.1" cy="50.5" r="1.8" fill="#5a5a5a"/><circle cx="31.0" cy="7.7" r="1.3" fill="#5a5a5a"/><circle cx="3.1" cy="19.7" r="1.1" fill="#5a5a5a"/><circle cx="61.0" cy="15.6" r="0.7" fill="#5a5a5a"/><circle cx="86.8" cy="31.4" r="1.8" fill="#5a5a5a"/><circle cx="89.7" cy="37.8" r="1.2" fill="#5a5a5a"/><circle cx="52.0" cy="64.4" r="1.3" fill="#5a5a5a"/><circle cx="55.9" cy="62.0" r="1.7" fill="#5a5a5a"/><circle cx="50.7" cy="43.1" r="1.5" fill="#5a5a5a"/><circle cx="23.8" cy="30.1" r="1.8" fill="#5a5a5a"/><circle cx="52.1" cy="54.8" r="0.6" fill="#5a5a5a"/><circle cx="41.5" cy="58.0" r="0.6" fill="#5a5a5a"/><circle cx="61.6" cy="63.2" r="0.7" fill="#5a5a5a"/><g filter="url(#b1)"><ellipse cx="48" cy="68" rx="45" ry="31" fill="#a4a4a4"/><ellipse cx="45" cy="45" rx="38" ry="16" fill="#b0b0b0"/><ellipse cx="74" cy="72" rx="16" ry="20" fill="#929292"/><ellipse cx="16" cy="64" rx="11" ry="16" fill="#b8b8b8"/><ellipse cx="45" cy="14" rx="22" ry="11" fill="#c0c0c0"/><rect x="10" y="14" width="62" height="38" rx="16" fill="#cbcbcb"/><ellipse cx="36" cy="6" rx="9" ry="7" fill="#c8c8c8"/><ellipse cx="58" cy="6" rx="7" ry="6" fill="#e8e8e8"/><ellipse cx="50" cy="96" rx="22" ry="5" fill="#acacac"/><ellipse cx="8" cy="26" rx="5" ry="4" fill="#aaa"/></g><circle cx="74" cy="14" r="2.5" fill="#e0e0e0"/><circle cx="80" cy="20" r="1.8" fill="#d0d0d0"/><circle cx="70" cy="22" r="1.5" fill="#bbb"/><ellipse cx="37.5" cy="66" rx="14.5" ry="12" fill="#a9dccb" opacity="0.9" filter="url(#b05)"/><path d="M32.5,55 C33,50 35,47 37.5,46.5 C40,45 44,45 46,46 C49,48 51,51 52.6,52.7 C55,55 56,58 53.8,60 C52,64 51,68 49,71.6 C46,73 42,73.5 39.6,72.8 C37,71 34.5,70 33.6,68 C32.5,63 32,58 32.5,55 Z" fill="none" stroke="#c0262c" stroke-width="1.5"/></svg>
<rect x="1136.5" y="140.9" width="14.7" height="14.5" fill="none" stroke="#b52025" stroke-width="1.3"/>
<line x1="1151.2" y1="140.9" x2="1213.7" y2="90.8" stroke="#a51d22" stroke-width="1.3"/>
<line x1="1151.2" y1="155.4" x2="1213.7" y2="193.8" stroke="#a51d22" stroke-width="1.3"/>
<text x="1096.2" y="180.8" font-size="14" font-style="italic" fill="#000" textLength="108.6" lengthAdjust="spacingAndGlyphs">Inaccurate pseudo-</text>
<text x="1114.8" y="194.0" font-size="14" font-style="italic" fill="#000" textLength="70.2" lengthAdjust="spacingAndGlyphs">labeled data</text>
<svg x="1213.7" y="90.8" width="104.3" height="103.0" viewBox="0 0 100 100" preserveAspectRatio="none" overflow="hidden"><rect width="100" height="100" fill="#a9d0c5"/><g filter="url(#b2)"><path d="M30,100 Q60,85 80,70 Q95,55 100,40 L100,100 Z" fill="#9b9b9b"/><ellipse cx="92" cy="30" rx="10" ry="22" fill="#dcd2d2"/><path d="M0,75 Q20,80 40,78 L30,100 L0,100 Z" fill="#b2c6bf"/></g><path d="M0.0,0.0 L2.0,0.0 L2.0,2.0 L2.0,4.0 L2.0,6.0 L2.0,8.0 L2.0,10.0 L2.0,12.0 L2.0,14.0 L2.0,16.0 L2.0,18.0 L2.0,20.0 L2.0,22.0 L2.0,24.0 L4.0,24.0 L4.0,26.0 L4.0,28.0 L6.0,28.0 L6.0,30.0 L6.0,32.0 L8.0,32.0 L8.0,34.0 L8.0,36.0 L10.0,36.0 L10.0,38.0 L12.0,38.0 L12.0,40.0 L12.0,42.0 L14.0,42.0 L16.0,42.0 L16.0,44.0 L16.0,46.0 L18.0,46.0 L18.0,48.0 L20.0,48.0 L20.0,50.0 L20.0,52.0 L22.0,52.0 L24.0,52.0 L24.0,54.0 L24.0,56.0 L26.0,56.0 L28.0,56.0 L28.0,58.0 L30.0,58.0 L30.0,60.0 L32.0,60.0 L34.0,60.0 L34.0,62.0 L36.0,62.0 L36.0,64.0 L38.0,64.0 L40.0,64.0 L40.0,66.0 L42.0,66.0 L44.0,66.0 L44.0,68.0 L46.0,68.0 L48.0,68.0 L50.0,68.0 L50.0,66.0 L52.0,66.0 L54.0,66.0 L56.0,66.0 L58.0,66.0 L60.0,66.0 L62.0,66.0 L62.0,64.0 L64.0,64.0 L66.0,64.0 L66.0,62.0 L68.0,62.0 L70.0,62.0 L70.0,60.0 L72.0,60.0 L74.0,60.0 L74.0,58.0 L76.0,58.0 L76.0,56.0 L76.0,54.0 L78.0,54.0 L80.0,54.0 L80.0,52.0 L80.0,50.0 L80.0,48.0 L80.0,46.0 L80.0,44.0 L80.0,42.0 L80.0,40.0 L80.0,38.0 L80.0,36.0 L80.0,34.0 L80.0,32.0 L80.0,30.0 L80.0,28.0 L80.0,26.0 L78.0,26.0 L78.0,24.0 L78.0,22.0 L78.0,20.0 L78.0,18.0 L78.0,16.0 L78.0,14.0 L76.0,14.0 L76.0,12.0 L76.0,10.0 L76.0,8.0 L76.0,6.0 L78.0,6.0 L80.0,6.0 L82.0,6.0 L84.0,6.0 L84.0,4.0 L86.0,4.0 L88.0,4.0 L90.0,4.0 L92.0,4.0 L92.0,6.0 L94.0,6.0 L96.0,6.0 L96.0,8.0 L98.0,8.0 L100.0,8.0" fill="none" stroke="#c0262c" stroke-width="2.8" stroke-linejoin="round"/></svg>
<rect x="1213.7" y="90.8" width="104.3" height="103.0" fill="none" stroke="#b52025" stroke-width="1.2"/>
<text x="1224.8" y="104.7" font-size="13.5" fill="#000" textLength="81.6" lengthAdjust="spacingAndGlyphs">Accurate label</text>
<text x="1220.2" y="187.4" font-size="13.5" fill="#000" textLength="90.8" lengthAdjust="spacingAndGlyphs">Inaccurate label</text>
<rect x="1259.4" y="123" width="10.5" height="10" fill="none" stroke="#5b67c9" stroke-width="2"/>
<rect x="1229.2" y="152.5" width="10.5" height="10.5" fill="none" stroke="#5b67c9" stroke-width="2"/>
<line x1="1269.9" y1="127.5" x2="1357" y2="126.1" stroke="#5b67c9" stroke-width="2"/>
<line x1="1239.7" y1="157.6" x2="1357" y2="155.7" stroke="#5b67c9" stroke-width="2"/>
<path d="M1346.5,122.0 L1357.5,126.1 L1346.5,130.2" fill="none" stroke="#5b67c9" stroke-width="1.8"/>
<path d="M1346.5,151.6 L1357.5,155.7 L1346.5,159.8" fill="none" stroke="#5b67c9" stroke-width="1.8"/>
<path d="M1238,107 C1238,118 1242,126 1252,127.5" fill="none" stroke="#000" stroke-width="1.2" stroke-dasharray="3 2"/>
<path d="M1258.5,128.0 L1251.3,131.1 L1253.3,127.7 L1251.7,124.2 Z" fill="#000"/>
<path d="M1237,179 C1236,170 1230,166 1229,164" fill="none" stroke="#000" stroke-width="1.2" stroke-dasharray="3 2"/>
<path d="M1227.5,157.5 L1233.0,163.0 L1229.2,162.5 L1226.4,165.2 Z" fill="#000"/>
<line x1="1361.2" y1="104" x2="1361.2" y2="157" stroke="#000" stroke-width="2"/>
<line x1="1360.2" y1="156.1" x2="1450" y2="156.1" stroke="#000" stroke-width="2"/>
<path d="M1356.2,106.5 L1361.2,96.6 L1366.2,106.5 Z" fill="#000"/>
<path d="M1448.3,151.8 L1459.3,156.1 L1448.3,160.6 Z" fill="#000"/>
<path d="M1371.7,151.7 C1375.9,151.1 1389.4,149.2 1396.9,148.0 C1404.4,146.8 1411.1,146.1 1416.6,144.3 C1422.1,142.5 1426.2,140.6 1429.7,137.0 C1433.2,133.4 1435.0,128.4 1437.4,122.8 C1439.8,117.1 1441.5,107.0 1444.0,103.1 C1446.5,99.2 1451.2,99.8 1452.7,99.2" fill="none" stroke="#999" stroke-width="3.2" opacity="0.45" transform="translate(1.6,1.8)" filter="url(#b05)"/>
<path d="M1371.7,151.7 C1375.9,151.1 1389.4,149.2 1396.9,148.0 C1404.4,146.8 1411.1,146.1 1416.6,144.3 C1422.1,142.5 1426.2,140.6 1429.7,137.0 C1433.2,133.4 1435.0,128.4 1437.4,122.8 C1439.8,117.1 1441.5,107.0 1444.0,103.1 C1446.5,99.2 1451.2,99.8 1452.7,99.2" fill="none" stroke="#a0161b" stroke-width="3.2" stroke-linecap="round"/>
<text x="1376.4" y="171.4" font-size="14" font-weight="bold" fill="#000" textLength="64.4" lengthAdjust="spacingAndGlyphs">Directly fit</text>
<text x="1357.0" y="185.2" font-size="14" font-weight="bold" fill="#000" textLength="101.8" lengthAdjust="spacingAndGlyphs">inaccurate labels</text>
<path d="M1370.4,159.7 C1342.7,160 1329.2,176 1329.2,203.5" fill="none" stroke="#808080" stroke-width="2.1"/>
<path d="M1323.3,203.5 L1335.1,203.5 L1329.2,212.6 Z" fill="#fff" stroke="#808080" stroke-width="1.5" stroke-linejoin="miter"/>
<path d="M1596.7,96.9 C1593.4,97.3 1584.7,97.9 1577.0,99.1 C1569.3,100.3 1558.7,101.6 1550.7,103.9 C1542.7,106.2 1534.1,109.4 1528.8,112.7 C1523.5,116.0 1520.9,118.9 1518.9,123.6 C1516.9,128.3 1516.5,135.4 1516.7,141.1 C1516.9,146.8 1518.0,153.5 1520.0,157.5 C1522.0,161.5 1525.5,164.1 1528.8,165.2 C1532.1,166.3 1535.7,165.9 1539.7,164.1 C1543.7,162.3 1549.1,157.8 1552.9,154.3 C1556.7,150.8 1560.2,144.8 1562.7,143.3 C1565.2,141.8 1567.1,142.9 1568.2,145.5 C1569.3,148.1 1569.4,153.7 1569.3,158.6 C1569.2,163.5 1568.0,172.3 1567.8,175.1" fill="none" stroke="#999" stroke-width="2.8" opacity="0.45" transform="translate(1.6,1.8)" filter="url(#b05)"/>
<path d="M1596.7,96.9 C1593.4,97.3 1584.7,97.9 1577.0,99.1 C1569.3,100.3 1558.7,101.6 1550.7,103.9 C1542.7,106.2 1534.1,109.4 1528.8,112.7 C1523.5,116.0 1520.9,118.9 1518.9,123.6 C1516.9,128.3 1516.5,135.4 1516.7,141.1 C1516.9,146.8 1518.0,153.5 1520.0,157.5 C1522.0,161.5 1525.5,164.1 1528.8,165.2 C1532.1,166.3 1535.7,165.9 1539.7,164.1 C1543.7,162.3 1549.1,157.8 1552.9,154.3 C1556.7,150.8 1560.2,144.8 1562.7,143.3 C1565.2,141.8 1567.1,142.9 1568.2,145.5 C1569.3,148.1 1569.4,153.7 1569.3,158.6 C1569.2,163.5 1568.0,172.3 1567.8,175.1" fill="none" stroke="#9b1519" stroke-width="2.8" stroke-linecap="round"/>
<circle cx="1502.1" cy="100.6" r="6.2" fill="#5b67c9"/>
<circle cx="1526.2" cy="94.7" r="6.2" fill="#5b67c9"/>
<circle cx="1518.9" cy="110" r="6.2" fill="#5b67c9"/>
<circle cx="1503" cy="123.2" r="6.2" fill="#5b67c9"/>
<circle cx="1496" cy="138.5" r="6.2" fill="#5b67c9"/>
<circle cx="1508.6" cy="143.3" r="6.2" fill="#5b67c9"/>
<circle cx="1529.9" cy="126.9" r="5.6" fill="#dc8a45" stroke="#d42026" stroke-width="1.8"/>
<circle cx="1529.9" cy="148.8" r="5.6" fill="#dc8a45" stroke="#d42026" stroke-width="1.8"/>
<path d="M1559.4,100.4 L1565.9,111.7 L1552.9,111.7 Z" fill="#d98a3c" stroke="none" stroke-width="0" stroke-linejoin="miter"/>
<path d="M1580.2,100.4 L1586.7,111.7 L1573.7,111.7 Z" fill="#d98a3c" stroke="none" stroke-width="0" stroke-linejoin="miter"/>
<path d="M1574.8,116.8 L1581.3,128.1 L1568.3,128.1 Z" fill="#d98a3c" stroke="none" stroke-width="0" stroke-linejoin="miter"/>
<path d="M1556.8,126.7 L1563.3,138.0 L1550.3,138.0 Z" fill="#d98a3c" stroke="none" stroke-width="0" stroke-linejoin="miter"/>
<path d="M1578.1,136.5 L1584.6,147.8 L1571.6,147.8 Z" fill="#d98a3c" stroke="none" stroke-width="0" stroke-linejoin="miter"/>
<path d="M1548.5,86.7 L1554.5,97.2 L1542.5,97.2 Z" fill="#5b67c9" stroke="#d42026" stroke-width="2" stroke-linejoin="miter"/>
<path d="M1560.5,148.5 L1566.5,159.0 L1554.5,159.0 Z" fill="#5b67c9" stroke="#d42026" stroke-width="2" stroke-linejoin="miter"/>
<line x1="1518" y1="90.8" x2="1540" y2="90.8" stroke="#777" stroke-width="0.9" stroke-dasharray="2.5 1.5" fill="none"/>
<path d="M1536.8,88.8 L1542.0,90.8 L1536.8,92.8" fill="none" stroke="#777" stroke-width="0.9"/>
<line x1="1518" y1="91" x2="1525.5" y2="119" stroke="#777" stroke-width="0.9" stroke-dasharray="2.5 1.5" fill="none"/>
<path d="M1522.5,116 L1525.8,120.3 L1527.5,115.3" fill="none" stroke="#777" stroke-width="0.9"/>
<line x1="1526" y1="133.5" x2="1526" y2="141.5" stroke="#777" stroke-width="0.9" stroke-dasharray="2.5 1.5" fill="none"/>
<path d="M1523.5,138.5 L1526,142 L1528.5,138.5" fill="none" stroke="#777" stroke-width="0.9"/>
<line x1="1518" y1="91" x2="1557" y2="147" stroke="#777" stroke-width="0.9" stroke-dasharray="2.5 1.5" fill="none"/>
<text x="1484.2" y="189.8" font-size="17.5" font-weight="bold" fill="#5b67c9" textLength="121.0" lengthAdjust="spacingAndGlyphs">Learn inaccurate</text>
<text x="1493.8" y="204.5" font-size="17.5" font-weight="bold" fill="#5b67c9" textLength="102.2" lengthAdjust="spacingAndGlyphs">representation</text>
<text x="1100.0" y="228.4" font-size="21" font-weight="bold" fill="#a8191c" textLength="100.6" lengthAdjust="spacingAndGlyphs">Limitation:</text>
<text x="1205.0" y="228.4" font-size="21" font-weight="bold" fill="#000" textLength="164.4" lengthAdjust="spacingAndGlyphs">Lack of robustness</text>
<text x="1375.2" y="228.4" font-size="21" fill="#000" textLength="232.4" lengthAdjust="spacingAndGlyphs">to learn with inaccurate data</text>
<text x="1134.8" y="257.7" font-size="20.5" font-weight="bold" fill="#000" textLength="440.4" lengthAdjust="spacingAndGlyphs">f) Our MMR reduces fitting degree of inaccurate labels</text>
<path d="M1190.6,328.6 L1469,328.6 L1469,321.7 L1482,335.2 L1469,347.8 L1469,341.7 L1190.6,341.7 Z" fill="#eab3b3"/>
<svg x="1115.8" y="302.1" width="66.5" height="66.6" viewBox="0 0 100 100" preserveAspectRatio="none" overflow="hidden"><rect width="100" height="100" fill="#0c0c0c"/><circle cx="23.8" cy="54.4" r="1.0" fill="#5a5a5a"/><circle cx="60.4" cy="62.6" r="0.7" fill="#5a5a5a"/><circle cx="1.3" cy="83.7" r="0.9" fill="#5a5a5a"/><circle cx="23.4" cy="99.6" r="1.2" fill="#5a5a5a"/><circle cx="83.6" cy="47.6" r="1.4" fill="#5a5a5a"/><circle cx="15.1" cy="63.5" r="1.6" fill="#5a5a5a"/><circle cx="52.3" cy="74.1" r="1.4" fill="#5a5a5a"/><circle cx="6.4" cy="75.8" r="1.3" fill="#5a5a5a"/><circle cx="30.1" cy="3.1" r="1.6" fill="#5a5a5a"/><circle cx="47.3" cy="71.9" r="1.7" fill="#5a5a5a"/><circle cx="71.4" cy="92.1" r="1.1" fill="#5a5a5a"/><circle cx="80.1" cy="44.5" r="1.7" fill="#5a5a5a"/><circle cx="87.9" cy="9.7" r="0.8" fill="#5a5a5a"/><circle cx="21.7" cy="96.5" r="1.1" fill="#5a5a5a"/><circle cx="62.7" cy="30.1" r="1.2" fill="#5a5a5a"/><circle cx="38.6" cy="35.1" r="1.3" fill="#5a5a5a"/><circle cx="58.4" cy="90.4" r="1.4" fill="#5a5a5a"/><circle cx="92.9" cy="85.6" r="1.8" fill="#5a5a5a"/><circle cx="67.1" cy="16.3" r="1.6" fill="#5a5a5a"/><circle cx="96.5" cy="90.5" r="1.3" fill="#5a5a5a"/><circle cx="71.4" cy="21.1" r="1.6" fill="#5a5a5a"/><circle cx="57.4" cy="28.5" r="0.7" fill="#5a5a5a"/><circle cx="85.4" cy="99.0" r="0.7" fill="#5a5a5a"/><circle cx="80.1" cy="41.0" r="0.8" fill="#5a5a5a"/><circle cx="29.4" cy="76.9" r="1.6" fill="#5a5a5a"/><circle cx="4.4" cy="61.5" r="0.7" fill="#5a5a5a"/><circle cx="71.8" cy="33.1" r="1.7" fill="#5a5a5a"/><circle cx="98.1" cy="50.5" r="1.8" fill="#5a5a5a"/><circle cx="31.0" cy="7.7" r="1.3" fill="#5a5a5a"/><circle cx="3.1" cy="19.7" r="1.1" fill="#5a5a5a"/><circle cx="61.0" cy="15.6" r="0.7" fill="#5a5a5a"/><circle cx="86.8" cy="31.4" r="1.8" fill="#5a5a5a"/><circle cx="89.7" cy="37.8" r="1.2" fill="#5a5a5a"/><circle cx="52.0" cy="64.4" r="1.3" fill="#5a5a5a"/><circle cx="55.9" cy="62.0" r="1.7" fill="#5a5a5a"/><circle cx="50.7" cy="43.1" r="1.5" fill="#5a5a5a"/><circle cx="23.8" cy="30.1" r="1.8" fill="#5a5a5a"/><circle cx="52.1" cy="54.8" r="0.6" fill="#5a5a5a"/><circle cx="41.5" cy="58.0" r="0.6" fill="#5a5a5a"/><circle cx="61.6" cy="63.2" r="0.7" fill="#5a5a5a"/><g filter="url(#b1)"><ellipse cx="48" cy="68" rx="45" ry="31" fill="#a4a4a4"/><ellipse cx="45" cy="45" rx="38" ry="16" fill="#b0b0b0"/><ellipse cx="74" cy="72" rx="16" ry="20" fill="#929292"/><ellipse cx="16" cy="64" rx="11" ry="16" fill="#b8b8b8"/><ellipse cx="45" cy="14" rx="22" ry="11" fill="#c0c0c0"/><rect x="10" y="14" width="62" height="38" rx="16" fill="#cbcbcb"/><ellipse cx="36" cy="6" rx="9" ry="7" fill="#c8c8c8"/><ellipse cx="58" cy="6" rx="7" ry="6" fill="#e8e8e8"/><ellipse cx="50" cy="96" rx="22" ry="5" fill="#acacac"/><ellipse cx="8" cy="26" rx="5" ry="4" fill="#aaa"/></g><circle cx="74" cy="14" r="2.5" fill="#e0e0e0"/><circle cx="80" cy="20" r="1.8" fill="#d0d0d0"/><circle cx="70" cy="22" r="1.5" fill="#bbb"/><ellipse cx="37.5" cy="66" rx="14.5" ry="12" fill="#a9dccb" opacity="0.9" filter="url(#b05)"/><path d="M32.5,55 C33,50 35,47 37.5,46.5 C40,45 44,45 46,46 C49,48 51,51 52.6,52.7 C55,55 56,58 53.8,60 C52,64 51,68 49,71.6 C46,73 42,73.5 39.6,72.8 C37,71 34.5,70 33.6,68 C32.5,63 32,58 32.5,55 Z" fill="none" stroke="#c0262c" stroke-width="1.5"/></svg>
<rect x="1136.5" y="341.1" width="14.7" height="14.5" fill="none" stroke="#b52025" stroke-width="1.3"/>
<line x1="1151.2" y1="341.1" x2="1213.7" y2="291.0" stroke="#a51d22" stroke-width="1.3"/>
<line x1="1151.2" y1="355.6" x2="1213.7" y2="394.0" stroke="#a51d22" stroke-width="1.3"/>
<text x="1096.2" y="381.0" font-size="14" font-style="italic" fill="#000" textLength="108.6" lengthAdjust="spacingAndGlyphs">Inaccurate pseudo-</text>
<text x="1114.8" y="394.2" font-size="14" font-style="italic" fill="#000" textLength="70.2" lengthAdjust="spacingAndGlyphs">labeled data</text>
<svg x="1213.7" y="290.5" width="104.3" height="103.0" viewBox="0 0 100 100" preserveAspectRatio="none" overflow="hidden"><rect width="100" height="100" fill="#a9d0c5"/><g filter="url(#b2)"><path d="M30,100 Q60,85 80,70 Q95,55 100,40 L100,100 Z" fill="#9b9b9b"/><ellipse cx="92" cy="30" rx="10" ry="22" fill="#dcd2d2"/><path d="M0,75 Q20,80 40,78 L30,100 L0,100 Z" fill="#b2c6bf"/></g><path d="M0.0,0.0 L2.0,0.0 L2.0,2.0 L2.0,4.0 L2.0,6.0 L2.0,8.0 L2.0,10.0 L2.0,12.0 L2.0,14.0 L2.0,16.0 L2.0,18.0 L2.0,20.0 L2.0,22.0 L2.0,24.0 L4.0,24.0 L4.0,26.0 L4.0,28.0 L6.0,28.0 L6.0,30.0 L6.0,32.0 L8.0,32.0 L8.0,34.0 L8.0,36.0 L10.0,36.0 L10.0,38.0 L12.0,38.0 L12.0,40.0 L12.0,42.0 L14.0,42.0 L16.0,42.0 L16.0,44.0 L16.0,46.0 L18.0,46.0 L18.0,48.0 L20.0,48.0 L20.0,50.0 L20.0,52.0 L22.0,52.0 L24.0,52.0 L24.0,54.0 L24.0,56.0 L26.0,56.0 L28.0,56.0 L28.0,58.0 L30.0,58.0 L30.0,60.0 L32.0,60.0 L34.0,60.0 L34.0,62.0 L36.0,62.0 L36.0,64.0 L38.0,64.0 L40.0,64.0 L40.0,66.0 L42.0,66.0 L44.0,66.0 L44.0,68.0 L46.0,68.0 L48.0,68.0 L50.0,68.0 L50.0,66.0 L52.0,66.0 L54.0,66.0 L56.0,66.0 L58.0,66.0 L60.0,66.0 L62.0,66.0 L62.0,64.0 L64.0,64.0 L66.0,64.0 L66.0,62.0 L68.0,62.0 L70.0,62.0 L70.0,60.0 L72.0,60.0 L74.0,60.0 L74.0,58.0 L76.0,58.0 L76.0,56.0 L76.0,54.0 L78.0,54.0 L80.0,54.0 L80.0,52.0 L80.0,50.0 L80.0,48.0 L80.0,46.0 L80.0,44.0 L80.0,42.0 L80.0,40.0 L80.0,38.0 L80.0,36.0 L80.0,34.0 L80.0,32.0 L80.0,30.0 L80.0,28.0 L80.0,26.0 L78.0,26.0 L78.0,24.0 L78.0,22.0 L78.0,20.0 L78.0,18.0 L78.0,16.0 L78.0,14.0 L76.0,14.0 L76.0,12.0 L76.0,10.0 L76.0,8.0 L76.0,6.0 L78.0,6.0 L80.0,6.0 L82.0,6.0 L84.0,6.0 L84.0,4.0 L86.0,4.0 L88.0,4.0 L90.0,4.0 L92.0,4.0 L92.0,6.0 L94.0,6.0 L96.0,6.0 L96.0,8.0 L98.0,8.0 L100.0,8.0" fill="none" stroke="#c0262c" stroke-width="2.8" stroke-linejoin="round"/></svg>
<rect x="1213.7" y="290.5" width="104.3" height="103.0" fill="none" stroke="#b52025" stroke-width="1.2"/>
<text x="1224.8" y="304.4" font-size="13.5" fill="#000" textLength="81.6" lengthAdjust="spacingAndGlyphs">Accurate label</text>
<text x="1220.2" y="387.1" font-size="13.5" fill="#000" textLength="90.8" lengthAdjust="spacingAndGlyphs">Inaccurate label</text>
<rect x="1259.4" y="322.8" width="10.5" height="10.5" fill="none" stroke="#5b67c9" stroke-width="2"/>
<rect x="1229.2" y="352.8" width="10" height="10" fill="none" stroke="#5b67c9" stroke-width="2"/>
<path d="M1264.6,322.8 C1264,302 1272,291 1300,289.5 L1357,288.4" fill="none" stroke="#5b67c9" stroke-width="2"/>
<path d="M1234.2,362.8 C1236,371 1248,372.6 1268,372.6 L1357,372.6" fill="none" stroke="#5b67c9" stroke-width="2"/>
<path d="M1347.0,284.3 L1358.0,288.4 L1347.0,292.5" fill="none" stroke="#5b67c9" stroke-width="1.8"/>
<path d="M1347.0,368.5 L1358.0,372.6 L1347.0,376.7" fill="none" stroke="#5b67c9" stroke-width="1.8"/>
<path d="M1238,307 C1238,318 1242,326 1252,327.5" fill="none" stroke="#000" stroke-width="1.2" stroke-dasharray="3 2"/>
<path d="M1258.5,328.0 L1251.3,331.1 L1253.3,327.7 L1251.7,324.2 Z" fill="#000"/>
<path d="M1237,379 C1236,370 1230,366 1229,364" fill="none" stroke="#000" stroke-width="1.2" stroke-dasharray="3 2"/>
<path d="M1227.5,357.5 L1233.0,363.0 L1229.2,362.5 L1226.4,365.2 Z" fill="#000"/>
<line x1="1372.3" y1="276" x2="1372.3" y2="313" stroke="#000" stroke-width="2"/>
<line x1="1371.3" y1="312.2" x2="1435" y2="312.2" stroke="#000" stroke-width="2"/>
<path d="M1368,278.5 L1372.3,270 L1376.6,278.5 Z" fill="#000"/>
<path d="M1433.1,308 L1441.5,312.2 L1433.1,316.4 Z" fill="#000"/>
<path d="M1380.3,308.7 C1383.8,308.3 1395.0,307.4 1401.0,306.4 C1407.0,305.4 1412.5,304.4 1416.3,302.6 C1420.1,300.8 1421.6,299.4 1423.9,295.7 C1426.2,292.0 1427.7,284.3 1430.0,280.4 C1432.3,276.4 1436.4,273.4 1437.7,272.0" fill="none" stroke="#999" stroke-width="2.4" opacity="0.45" transform="translate(1.6,1.8)" filter="url(#b05)"/>
<path d="M1380.3,308.7 C1383.8,308.3 1395.0,307.4 1401.0,306.4 C1407.0,305.4 1412.5,304.4 1416.3,302.6 C1420.1,300.8 1421.6,299.4 1423.9,295.7 C1426.2,292.0 1427.7,284.3 1430.0,280.4 C1432.3,276.4 1436.4,273.4 1437.7,272.0" fill="none" stroke="#a0161b" stroke-width="2.4" stroke-linecap="round"/>
<text x="1361.4" y="325.1" font-size="11.5" font-weight="bold" fill="#000" textLength="90.4" lengthAdjust="spacingAndGlyphs">Fit accurate labels</text>
<line x1="1372.3" y1="340" x2="1372.3" y2="377.5" stroke="#000" stroke-width="2"/>
<line x1="1371.3" y1="376.6" x2="1435" y2="376.6" stroke="#000" stroke-width="2"/>
<path d="M1368,342.5 L1372.3,334 L1376.6,342.5 Z" fill="#000"/>
<path d="M1433.1,372.4 L1441.5,376.6 L1433.1,380.8 Z" fill="#000"/>
<path d="M1380,372.6 C1400,371 1420,372 1428,362 C1434,352 1434,345 1437,338" fill="none" stroke="#aaa" stroke-width="1.4"/>
<line x1="1380" y1="372.6" x2="1437.5" y2="335.9" stroke="#a0161b" stroke-width="2.4"/>
<line x1="1416.5" y1="362.5" x2="1409.5" y2="354.5" stroke="#a0161b" stroke-width="1.5"/>
<path d="M1409.8,359.5 L1409.3,354.2 L1414.5,354.4" fill="none" stroke="#a0161b" stroke-width="1.5"/>
<text x="1344.4" y="389.5" font-size="11.5" font-weight="bold" fill="#000" textLength="124.4" lengthAdjust="spacingAndGlyphs">Reduce the fitting degree</text>
<text x="1357.2" y="400.2" font-size="11.5" font-weight="bold" fill="#000" textLength="96.8" lengthAdjust="spacingAndGlyphs">of inaccurate labels</text>
<path d="M1596.8,292.0 C1591.4,292.2 1573.4,292.3 1564.4,293.3 C1555.4,294.3 1548.9,295.9 1542.7,298.1 C1536.5,300.3 1531.1,303.1 1527.1,306.5 C1523.1,309.9 1520.3,312.9 1518.7,318.5 C1517.1,324.1 1517.1,333.8 1517.5,340.2 C1517.9,346.6 1518.5,353.6 1521.1,357.0 C1523.7,360.4 1529.5,361.0 1533.1,360.6 C1536.7,360.2 1539.1,357.6 1542.7,354.6 C1546.3,351.6 1551.1,345.4 1554.7,342.6 C1558.3,339.8 1562.0,336.9 1564.4,337.7 C1566.8,338.5 1568.4,342.2 1569.2,347.4 C1570.0,352.6 1569.2,365.4 1569.2,369.0" fill="none" stroke="#cfcfcf" stroke-width="2.6"/>
<path d="M1543.9,274.0 C1543.2,275.4 1540.8,277.4 1539.8,282.4 C1538.8,287.4 1538.1,296.5 1537.9,304.1 C1537.7,311.7 1537.4,320.9 1538.4,328.1 C1539.4,335.3 1541.2,341.8 1543.9,347.4 C1546.6,353.0 1550.7,357.8 1554.7,361.8 C1558.7,365.8 1565.8,369.8 1568.0,371.4" fill="none" stroke="#999" stroke-width="2.8" opacity="0.45" transform="translate(1.6,1.8)" filter="url(#b05)"/>
<path d="M1543.9,274.0 C1543.2,275.4 1540.8,277.4 1539.8,282.4 C1538.8,287.4 1538.1,296.5 1537.9,304.1 C1537.7,311.7 1537.4,320.9 1538.4,328.1 C1539.4,335.3 1541.2,341.8 1543.9,347.4 C1546.6,353.0 1550.7,357.8 1554.7,361.8 C1558.7,365.8 1565.8,369.8 1568.0,371.4" fill="none" stroke="#9b1519" stroke-width="2.8" stroke-linecap="round"/>
<circle cx="1501.8" cy="294.9" r="6.4" fill="#5b67c9"/>
<circle cx="1526.4" cy="289.2" r="6.4" fill="#5b67c9"/>
<circle cx="1518.7" cy="304.6" r="6.4" fill="#5b67c9"/>
<circle cx="1503" cy="318" r="6.4" fill="#5b67c9"/>
<circle cx="1495.8" cy="333.4" r="6.4" fill="#5b67c9"/>
<circle cx="1508.6" cy="337.7" r="6.4" fill="#5b67c9"/>
<circle cx="1529.5" cy="321.4" r="5.8" fill="#dc8a45" stroke="#d42026" stroke-width="1.6"/>
<circle cx="1529.5" cy="343" r="5.8" fill="#dc8a45" stroke="#d42026" stroke-width="1.6"/>
<path d="M1559.6,294.9 L1566.1,306.2 L1553.1,306.2 Z" fill="#d98a3c" stroke="none" stroke-width="0" stroke-linejoin="miter"/>
<path d="M1580.7,294.9 L1587.2,306.2 L1574.2,306.2 Z" fill="#d98a3c" stroke="none" stroke-width="0" stroke-linejoin="miter"/>
<path d="M1574.5,311.7 L1581.0,323.0 L1568.0,323.0 Z" fill="#d98a3c" stroke="none" stroke-width="0" stroke-linejoin="miter"/>
<path d="M1556.7,320.8 L1563.2,332.1 L1550.2,332.1 Z" fill="#d98a3c" stroke="none" stroke-width="0" stroke-linejoin="miter"/>
<path d="M1578.3,330.9 L1584.8,342.2 L1571.8,342.2 Z" fill="#d98a3c" stroke="none" stroke-width="0" stroke-linejoin="miter"/>
<path d="M1548.0,281.0 L1554.0,291.5 L1542.0,291.5 Z" fill="#5b67c9" stroke="#d42026" stroke-width="2" stroke-linejoin="miter"/>
<path d="M1560.8,342.8 L1566.8,353.3 L1554.8,353.3 Z" fill="#5b67c9" stroke="#d42026" stroke-width="2" stroke-linejoin="miter"/>
<line x1="1577.6" y1="292" x2="1543" y2="284.6" stroke="#a0161b" stroke-width="1.3" stroke-dasharray="3.5 2" fill="none"/>
<line x1="1516.3" y1="332.5" x2="1537" y2="324" stroke="#a0161b" stroke-width="1.3" stroke-dasharray="3.5 2" fill="none"/>
<line x1="1518.7" y1="352.2" x2="1539.5" y2="339" stroke="#a0161b" stroke-width="1.3" stroke-dasharray="3.5 2" fill="none"/>
<line x1="1566.8" y1="339" x2="1553.5" y2="355" stroke="#a0161b" stroke-width="1.3" stroke-dasharray="3.5 2" fill="none"/>
<text x="1510.4" y="386.1" font-size="17.5" font-weight="bold" fill="#a8191c" textLength="67.6" lengthAdjust="spacingAndGlyphs">Robust to</text>
<text x="1486.0" y="402.0" font-size="17.5" font-weight="bold" fill="#a8191c" textLength="117.0" lengthAdjust="spacingAndGlyphs">inaccurate labels</text>
<text x="1128.6" y="428.2" font-size="21" font-weight="bold" fill="#a8191c" textLength="101.2" lengthAdjust="spacingAndGlyphs">Advantage:</text>
<text x="1234.6" y="428.2" font-size="21" font-weight="bold" fill="#000" textLength="110.6" lengthAdjust="spacingAndGlyphs">More robust</text>
<text x="1349.6" y="428.2" font-size="21" fill="#000" textLength="231.8" lengthAdjust="spacingAndGlyphs">to learn with inaccurate data</text>
</svg></body></html>
